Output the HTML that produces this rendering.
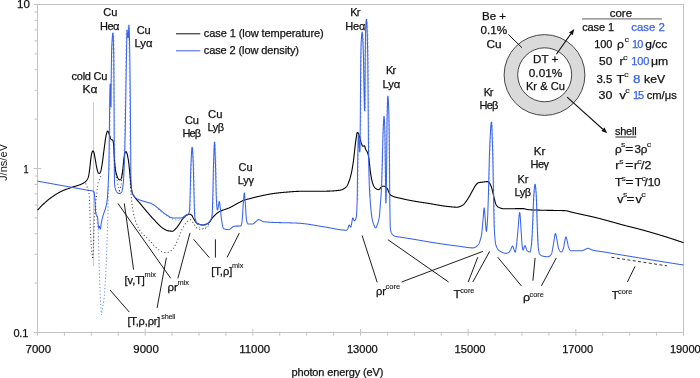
<!DOCTYPE html>
<html><head><meta charset="utf-8"><title>spectra</title>
<style>
html,body{margin:0;padding:0;background:#fff;}
svg{display:block;font-family:"Liberation Sans",sans-serif;}
text{white-space:pre;}
</style></head><body>
<svg width="700" height="378" viewBox="0 0 700 378">
<rect width="700" height="378" fill="#fff"/>
<g id="axes">
<rect x="37.5" y="4.5" width="646.0" height="328.0" fill="none" stroke="#c3c3c3" stroke-width="1"/>
<path d="M37.50,329.0v6.7 M64.42,331.7v4 M91.33,331.7v4 M118.25,331.7v4 M145.17,329.0v6.7 M172.08,331.7v4 M199.00,331.7v4 M225.92,331.7v4 M252.83,329.0v6.7 M279.75,331.7v4 M306.67,331.7v4 M333.58,331.7v4 M360.50,329.0v6.7 M387.42,331.7v4 M414.33,331.7v4 M441.25,331.7v4 M468.17,329.0v6.7 M495.08,331.7v4 M522.00,331.7v4 M548.92,331.7v4 M575.83,329.0v6.7 M602.75,331.7v4 M629.67,331.7v4 M656.58,331.7v4 M683.50,329.0v6.7 M41.3,332.50h-7.6 M38.1,283.13h-3.6 M38.1,254.25h-3.6 M38.1,233.76h-3.6 M38.1,217.87h-3.6 M38.1,204.88h-3.6 M38.1,193.90h-3.6 M38.1,184.39h-3.6 M38.1,176.00h-3.6 M41.3,168.50h-7.6 M38.1,119.13h-3.6 M38.1,90.25h-3.6 M38.1,69.76h-3.6 M38.1,53.87h-3.6 M38.1,40.88h-3.6 M38.1,29.90h-3.6 M38.1,20.39h-3.6 M38.1,12.00h-3.6 M41.3,4.50h-7.6" fill="none" stroke="#c3c3c3" stroke-width="1"/>
</g>
<g id="shapes">
<line x1="93.6" y1="102.6" x2="93.6" y2="266" stroke="#c3c3c3" stroke-width="0.95"/>
<line x1="124.3" y1="203.4" x2="133.6" y2="269.7" stroke="#111" stroke-width="0.95"/>
<line x1="117.9" y1="203.4" x2="170.7" y2="278.3" stroke="#111" stroke-width="0.95"/>
<line x1="166.4" y1="257.6" x2="157.1" y2="307.9" stroke="#111" stroke-width="0.95"/>
<line x1="190" y1="232.9" x2="177.9" y2="278.3" stroke="#111" stroke-width="0.95"/>
<line x1="193.6" y1="239.3" x2="209.3" y2="257.6" stroke="#111" stroke-width="0.95"/>
<line x1="215.4" y1="239.3" x2="215.4" y2="257.6" stroke="#111" stroke-width="0.95"/>
<line x1="239.3" y1="233.1" x2="227.1" y2="257.4" stroke="#111" stroke-width="0.95"/>
<line x1="110" y1="290" x2="129.3" y2="312.1" stroke="#111" stroke-width="0.95"/>
<line x1="362.1" y1="235.5" x2="377.2" y2="282.3" stroke="#111" stroke-width="0.95"/>
<line x1="387.8" y1="239.6" x2="448.6" y2="282" stroke="#111" stroke-width="0.95"/>
<line x1="401.6" y1="282" x2="482.8" y2="251.4" stroke="#111" stroke-width="0.95"/>
<line x1="468.2" y1="282" x2="477.8" y2="257.2" stroke="#111" stroke-width="0.95"/>
<line x1="472.8" y1="282" x2="489.6" y2="251.4" stroke="#111" stroke-width="0.95"/>
<line x1="497.7" y1="257.2" x2="521.4" y2="285.9" stroke="#111" stroke-width="0.95"/>
<line x1="535.1" y1="257.9" x2="532.9" y2="280.7" stroke="#111" stroke-width="0.95"/>
<line x1="556.3" y1="257.9" x2="541.4" y2="285.9" stroke="#111" stroke-width="0.95"/>
<line x1="635" y1="266.4" x2="627.4" y2="282.0" stroke="#111" stroke-width="0.95"/>
<line x1="611.4" y1="257.3" x2="667.1" y2="265.9" stroke="#111" stroke-width="1" stroke-dasharray="3 2.4" opacity=".85"/>
<line x1="176" y1="33.8" x2="200.3" y2="33.8" stroke="#111" stroke-width="1"/>
<line x1="176" y1="50.8" x2="200.3" y2="50.8" stroke="#3a63ec" stroke-width="1"/>
<circle cx="544.5" cy="75" r="40.4" fill="#dadada" stroke="#333" stroke-width="0.9"/>
<circle cx="544.7" cy="74.8" r="27" fill="#fff" stroke="#333" stroke-width="0.9"/>
<line x1="508.3" y1="34.3" x2="521.9" y2="47.7" stroke="#111" stroke-width="1"/>
<line x1="582" y1="18.8" x2="662" y2="18.8" stroke="#808080" stroke-width="1.3"/>
<line x1="556.4" y1="54.3" x2="570.83" y2="33.90" stroke="#111" stroke-width="1.1"/>
<polygon points="574.30,29.00 572.71,35.23 568.96,32.57" fill="#111"/>
<line x1="567.1" y1="97.1" x2="602.84" y2="129.28" stroke="#111" stroke-width="1.1"/>
<polygon points="607.30,133.30 601.30,130.99 604.38,127.58" fill="#111"/>
<line x1="615.4" y1="137" x2="636.3" y2="137" stroke="#111" stroke-width="0.9"/>
</g>
<g id="curves">
<path d="M37.50,210.20 L37.75,209.92 L38.00,209.65 L38.25,209.38 L38.50,209.10 L38.75,208.83 L39.00,208.57 L39.25,208.30 L39.50,208.03 L39.75,207.77 L40.00,207.50 L40.25,207.24 L40.50,206.98 L40.75,206.72 L41.00,206.47 L41.25,206.21 L41.50,205.96 L41.75,205.70 L42.00,205.45 L42.25,205.20 L42.50,204.96 L42.75,204.71 L43.00,204.47 L43.25,204.23 L43.50,203.99 L43.75,203.75 L44.00,203.51 L44.25,203.27 L44.50,203.04 L44.75,202.81 L45.00,202.58 L45.25,202.35 L45.50,202.13 L45.75,201.90 L46.00,201.68 L46.25,201.46 L46.50,201.25 L46.75,201.03 L47.00,200.82 L47.25,200.61 L47.50,200.40 L47.75,200.19 L48.00,199.98 L48.25,199.78 L48.50,199.58 L48.75,199.38 L49.00,199.18 L49.25,198.99 L49.50,198.80 L49.75,198.61 L50.00,198.42 L50.25,198.24 L50.50,198.05 L50.75,197.87 L51.00,197.69 L51.25,197.51 L51.50,197.33 L51.75,197.15 L52.00,196.98 L52.25,196.80 L52.50,196.63 L52.75,196.46 L53.00,196.28 L53.25,196.11 L53.50,195.94 L53.75,195.77 L54.00,195.61 L54.25,195.44 L54.50,195.28 L54.75,195.11 L55.00,194.95 L55.25,194.79 L55.50,194.63 L55.75,194.48 L56.00,194.32 L56.25,194.16 L56.50,194.01 L56.75,193.86 L57.00,193.71 L57.25,193.56 L57.50,193.41 L57.75,193.26 L58.00,193.12 L58.25,192.98 L58.50,192.83 L58.75,192.69 L59.00,192.55 L59.25,192.42 L59.50,192.28 L59.75,192.15 L60.00,192.01 L60.25,191.88 L60.50,191.75 L60.75,191.63 L61.00,191.50 L61.25,191.38 L61.50,191.25 L61.75,191.13 L62.00,191.01 L62.25,190.90 L62.50,190.78 L62.75,190.67 L63.00,190.56 L63.25,190.45 L63.50,190.34 L63.75,190.23 L64.00,190.13 L64.25,190.03 L64.50,189.93 L64.75,189.83 L65.00,189.73 L65.25,189.64 L65.50,189.55 L65.75,189.45 L66.00,189.36 L66.25,189.27 L66.50,189.18 L66.75,189.10 L67.00,189.01 L67.25,188.92 L67.50,188.84 L67.75,188.75 L68.00,188.67 L68.25,188.58 L68.50,188.50 L68.75,188.41 L69.00,188.33 L69.25,188.25 L69.50,188.16 L69.75,188.08 L70.00,187.99 L70.25,187.90 L70.50,187.82 L70.75,187.73 L71.00,187.64 L71.25,187.55 L71.50,187.46 L71.75,187.38 L72.00,187.29 L72.25,187.20 L72.50,187.12 L72.75,187.04 L73.00,186.96 L73.25,186.88 L73.50,186.80 L73.75,186.72 L74.00,186.65 L74.25,186.57 L74.50,186.49 L74.75,186.42 L75.00,186.34 L75.25,186.27 L75.50,186.19 L75.75,186.12 L76.00,186.04 L76.25,185.97 L76.50,185.89 L76.75,185.82 L77.00,185.74 L77.25,185.66 L77.50,185.58 L77.75,185.50 L78.00,185.42 L78.25,185.34 L78.50,185.26 L78.75,185.17 L79.00,185.08 L79.25,184.99 L79.50,184.90 L79.75,184.81 L80.00,184.71 L80.25,184.62 L80.50,184.51 L80.75,184.41 L81.00,184.31 L81.25,184.20 L81.50,184.09 L81.75,183.97 L82.00,183.85 L82.25,183.73 L82.50,183.61 L82.75,183.48 L83.00,183.35 L83.25,183.21 L83.50,183.06 L83.75,182.91 L84.00,182.75 L84.25,182.58 L84.50,182.40 L84.75,182.21 L85.00,182.01 L85.25,181.79 L85.50,181.57 L85.75,181.32 L86.00,181.06 L86.25,180.79 L86.50,180.50 L86.75,180.19 L87.00,179.84 L87.25,179.44 L87.50,179.00 L87.75,178.49 L88.00,177.91 L88.25,177.25 L88.50,176.50 L88.75,175.46 L89.00,174.00 L89.25,172.25 L89.50,170.34 L89.75,168.38 L90.00,166.30 L90.25,163.87 L90.50,161.37 L90.75,159.11 L91.00,157.34 L91.25,155.74 L91.50,154.29 L91.75,153.11 L92.00,152.30 L92.25,151.73 L92.50,151.25 L92.75,150.95 L93.00,150.92 L93.25,151.16 L93.50,151.60 L93.75,152.15 L94.00,152.77 L94.25,153.74 L94.50,155.00 L94.75,156.43 L95.00,157.89 L95.25,159.27 L95.50,160.69 L95.75,162.21 L96.00,163.74 L96.25,165.23 L96.50,166.61 L96.75,167.79 L97.00,168.82 L97.25,169.84 L97.50,170.80 L97.75,171.64 L98.00,172.31 L98.25,172.75 L98.50,172.99 L98.75,173.19 L99.00,173.33 L99.25,173.40 L99.50,173.35 L99.75,173.15 L100.00,172.84 L100.25,172.44 L100.50,172.00 L100.75,171.36 L101.00,170.41 L101.25,169.22 L101.50,167.88 L101.75,166.44 L102.00,165.00 L102.25,163.46 L102.50,161.73 L102.75,159.86 L103.00,157.89 L103.25,155.87 L103.50,153.85 L103.75,151.87 L104.00,150.00 L104.25,148.13 L104.50,146.18 L104.75,144.20 L105.00,142.25 L105.25,140.41 L105.50,138.71 L105.75,137.22 L106.00,136.00 L106.25,134.91 L106.50,133.83 L106.75,132.83 L107.00,131.98 L107.25,131.36 L107.50,131.03 L107.75,131.05 L108.00,131.34 L108.25,131.78 L108.50,132.30 L108.75,132.84 L109.00,133.55 L109.25,134.34 L109.50,135.12 L109.75,135.82 L110.00,136.55 L110.25,137.30 L110.50,138.00 L110.75,138.63 L111.00,139.12 L111.25,139.45 L111.50,139.65 L111.75,139.78 L112.00,139.88 L112.25,139.98 L112.50,140.11 L112.75,140.31 L113.00,140.60 L113.25,141.74 L113.50,143.97 L113.75,147.19 L114.00,152.30 L114.25,156.74 L114.50,160.33 L114.75,163.62 L115.00,166.36 L115.25,168.34 L115.50,169.90 L115.75,171.29 L116.00,172.51 L116.25,173.58 L116.50,174.51 L116.75,175.31 L117.00,176.00 L117.25,176.62 L117.50,177.20 L117.75,177.74 L118.00,178.23 L118.25,178.66 L118.50,179.02 L118.75,179.30 L119.00,179.50 L119.25,179.65 L119.50,179.78 L119.75,179.87 L120.00,179.90 L120.25,179.83 L120.50,179.63 L120.75,179.34 L121.00,179.00 L121.25,178.45 L121.50,177.56 L121.75,176.40 L122.00,175.04 L122.25,173.55 L122.50,172.00 L122.75,170.10 L123.00,167.69 L123.25,165.01 L123.50,162.34 L123.75,159.91 L124.00,158.00 L124.25,156.42 L124.50,154.91 L124.75,153.61 L125.00,152.65 L125.25,152.13 L125.50,151.83 L125.75,151.64 L126.00,151.63 L126.25,151.89 L126.50,152.34 L126.75,152.89 L127.00,153.52 L127.25,154.37 L127.50,155.42 L127.75,156.64 L128.00,157.99 L128.25,159.46 L128.50,161.00 L128.75,162.80 L129.00,164.96 L129.25,167.37 L129.50,169.92 L129.75,172.50 L130.00,175.00 L130.25,177.58 L130.50,180.34 L130.75,183.05 L131.00,185.45 L131.25,187.33 L131.50,188.93 L131.75,190.39 L132.00,191.66 L132.25,192.71 L132.50,193.50 L132.75,194.10 L133.00,194.64 L133.25,195.11 L133.50,195.53 L133.75,195.91 L134.00,196.26 L134.25,196.59 L134.50,196.90 L134.75,197.22 L135.00,197.53 L135.25,197.87 L135.50,198.20 L135.75,198.53 L136.00,198.84 L136.25,199.15 L136.50,199.45 L136.75,199.74 L137.00,200.03 L137.25,200.32 L137.50,200.60 L137.75,200.87 L138.00,201.15 L138.25,201.42 L138.50,201.70 L138.75,201.98 L139.00,202.25 L139.25,202.53 L139.50,202.82 L139.75,203.11 L140.00,203.40 L140.25,203.70 L140.50,204.00 L140.75,204.30 L141.00,204.60 L141.25,204.91 L141.50,205.21 L141.75,205.52 L142.00,205.82 L142.25,206.13 L142.50,206.43 L142.75,206.74 L143.00,207.04 L143.25,207.34 L143.50,207.65 L143.75,207.95 L144.00,208.24 L144.25,208.54 L144.50,208.84 L144.75,209.13 L145.00,209.43 L145.25,209.72 L145.50,210.02 L145.75,210.31 L146.00,210.61 L146.25,210.90 L146.50,211.20 L146.75,211.49 L147.00,211.79 L147.25,212.08 L147.50,212.38 L147.75,212.67 L148.00,212.96 L148.25,213.26 L148.50,213.55 L148.75,213.84 L149.00,214.13 L149.25,214.42 L149.50,214.71 L149.75,215.00 L150.00,215.28 L150.25,215.57 L150.50,215.85 L150.75,216.14 L151.00,216.42 L151.25,216.70 L151.50,216.98 L151.75,217.26 L152.00,217.54 L152.25,217.81 L152.50,218.08 L152.75,218.36 L153.00,218.63 L153.25,218.89 L153.50,219.16 L153.75,219.43 L154.00,219.69 L154.25,219.95 L154.50,220.21 L154.75,220.47 L155.00,220.73 L155.25,221.00 L155.50,221.26 L155.75,221.53 L156.00,221.79 L156.25,222.06 L156.50,222.33 L156.75,222.59 L157.00,222.86 L157.25,223.12 L157.50,223.38 L157.75,223.65 L158.00,223.90 L158.25,224.16 L158.50,224.42 L158.75,224.67 L159.00,224.92 L159.25,225.16 L159.50,225.41 L159.75,225.64 L160.00,225.88 L160.25,226.11 L160.50,226.33 L160.75,226.55 L161.00,226.77 L161.25,226.98 L161.50,227.18 L161.75,227.38 L162.00,227.57 L162.25,227.75 L162.50,227.93 L162.75,228.10 L163.00,228.26 L163.25,228.43 L163.50,228.59 L163.75,228.76 L164.00,228.92 L164.25,229.08 L164.50,229.24 L164.75,229.40 L165.00,229.55 L165.25,229.70 L165.50,229.84 L165.75,229.98 L166.00,230.11 L166.25,230.23 L166.50,230.34 L166.75,230.45 L167.00,230.54 L167.25,230.62 L167.50,230.70 L167.75,230.75 L168.00,230.80 L168.25,230.84 L168.50,230.88 L168.75,230.91 L169.00,230.95 L169.25,230.98 L169.50,231.01 L169.75,231.04 L170.00,231.07 L170.25,231.09 L170.50,231.12 L170.75,231.14 L171.00,231.15 L171.25,231.17 L171.50,231.18 L171.75,231.19 L172.00,231.20 L172.25,231.20 L172.50,231.19 L172.75,231.13 L173.00,231.04 L173.25,230.92 L173.50,230.77 L173.75,230.59 L174.00,230.39 L174.25,230.17 L174.50,229.95 L174.75,229.71 L175.00,229.47 L175.25,229.23 L175.50,228.99 L175.75,228.75 L176.00,228.51 L176.25,228.24 L176.50,227.95 L176.75,227.64 L177.00,227.32 L177.25,226.98 L177.50,226.64 L177.75,226.29 L178.00,225.93 L178.25,225.57 L178.50,225.21 L178.75,224.85 L179.00,224.50 L179.25,224.14 L179.50,223.77 L179.75,223.38 L180.00,222.98 L180.25,222.57 L180.50,222.16 L180.75,221.75 L181.00,221.34 L181.25,220.94 L181.50,220.54 L181.75,220.15 L182.00,219.78 L182.25,219.42 L182.50,219.09 L182.75,218.78 L183.00,218.49 L183.25,218.20 L183.50,217.92 L183.75,217.65 L184.00,217.38 L184.25,217.12 L184.50,216.87 L184.75,216.62 L185.00,216.39 L185.25,216.17 L185.50,215.96 L185.75,215.77 L186.00,215.60 L186.25,215.44 L186.50,215.30 L186.75,215.17 L187.00,215.04 L187.25,214.91 L187.50,214.78 L187.75,214.67 L188.00,214.56 L188.25,214.46 L188.50,214.37 L188.75,214.30 L189.00,214.25 L189.25,214.21 L189.50,214.20 L189.75,214.22 L190.00,214.26 L190.25,214.34 L190.50,214.44 L190.75,214.56 L191.00,214.69 L191.25,214.84 L191.50,215.00 L191.75,215.23 L192.00,215.56 L192.25,215.99 L192.50,216.47 L192.75,216.98 L193.00,217.50 L193.25,217.99 L193.50,218.44 L193.75,218.83 L194.00,219.23 L194.25,219.63 L194.50,220.04 L194.75,220.45 L195.00,220.85 L195.25,221.24 L195.50,221.62 L195.75,221.97 L196.00,222.30 L196.25,222.59 L196.50,222.85 L196.75,223.07 L197.00,223.24 L197.25,223.38 L197.50,223.50 L197.75,223.62 L198.00,223.74 L198.25,223.85 L198.50,223.96 L198.75,224.06 L199.00,224.16 L199.25,224.26 L199.50,224.35 L199.75,224.44 L200.00,224.52 L200.25,224.59 L200.50,224.66 L200.75,224.73 L201.00,224.78 L201.25,224.84 L201.50,224.88 L201.75,224.92 L202.00,224.95 L202.25,224.97 L202.50,224.99 L202.75,225.00 L203.00,225.00 L203.25,224.99 L203.50,224.97 L203.75,224.94 L204.00,224.90 L204.25,224.85 L204.50,224.79 L204.75,224.72 L205.00,224.64 L205.25,224.56 L205.50,224.47 L205.75,224.37 L206.00,224.27 L206.25,224.16 L206.50,224.04 L206.75,223.92 L207.00,223.79 L207.25,223.66 L207.50,223.53 L207.75,223.39 L208.00,223.25 L208.25,223.10 L208.50,222.96 L208.75,222.80 L209.00,222.61 L209.25,222.37 L209.50,222.10 L209.75,221.79 L210.00,221.46 L210.25,221.11 L210.50,220.74 L210.75,220.36 L211.00,219.98 L211.25,219.59 L211.50,219.20 L211.75,218.82 L212.00,218.45 L212.25,218.10 L212.50,217.77 L212.75,217.47 L213.00,217.19 L213.25,216.92 L213.50,216.65 L213.75,216.38 L214.00,216.12 L214.25,215.86 L214.50,215.59 L214.75,215.34 L215.00,215.08 L215.25,214.83 L215.50,214.59 L215.75,214.35 L216.00,214.11 L216.25,213.88 L216.50,213.66 L216.75,213.44 L217.00,213.23 L217.25,213.03 L217.50,212.84 L217.75,212.66 L218.00,212.48 L218.25,212.31 L218.50,212.16 L218.75,212.01 L219.00,211.87 L219.25,211.74 L219.50,211.60 L219.75,211.47 L220.00,211.35 L220.25,211.23 L220.50,211.11 L220.75,211.00 L221.00,210.89 L221.25,210.78 L221.50,210.67 L221.75,210.57 L222.00,210.47 L222.25,210.37 L222.50,210.28 L222.75,210.18 L223.00,210.09 L223.25,210.00 L223.50,209.91 L223.75,209.83 L224.00,209.74 L224.25,209.65 L224.50,209.57 L224.75,209.48 L225.00,209.40 L225.25,209.31 L225.50,209.23 L225.75,209.14 L226.00,209.06 L226.25,208.97 L226.50,208.89 L226.75,208.80 L227.00,208.71 L227.25,208.62 L227.50,208.53 L227.75,208.44 L228.00,208.34 L228.25,208.25 L228.50,208.15 L228.75,208.05 L229.00,207.94 L229.25,207.84 L229.50,207.73 L229.75,207.62 L230.00,207.50 L230.25,207.38 L230.50,207.26 L230.75,207.14 L231.00,207.01 L231.25,206.88 L231.50,206.75 L231.75,206.61 L232.00,206.48 L232.25,206.34 L232.50,206.20 L232.75,206.06 L233.00,205.92 L233.25,205.78 L233.50,205.64 L233.75,205.50 L234.00,205.35 L234.25,205.21 L234.50,205.06 L234.75,204.92 L235.00,204.78 L235.25,204.63 L235.50,204.49 L235.75,204.35 L236.00,204.21 L236.25,204.07 L236.50,203.93 L236.75,203.80 L237.00,203.66 L237.25,203.53 L237.50,203.40 L237.75,203.27 L238.00,203.14 L238.25,203.00 L238.50,202.87 L238.75,202.74 L239.00,202.60 L239.25,202.46 L239.50,202.33 L239.75,202.19 L240.00,202.06 L240.25,201.92 L240.50,201.79 L240.75,201.66 L241.00,201.53 L241.25,201.40 L241.50,201.28 L241.75,201.15 L242.00,201.03 L242.25,200.91 L242.50,200.80 L242.75,200.69 L243.00,200.58 L243.25,200.48 L243.50,200.38 L243.75,200.29 L244.00,200.20 L244.25,200.12 L244.50,200.03 L244.75,199.95 L245.00,199.88 L245.25,199.80 L245.50,199.73 L245.75,199.66 L246.00,199.60 L246.25,199.53 L246.50,199.46 L246.75,199.40 L247.00,199.34 L247.25,199.28 L247.50,199.21 L247.75,199.15 L248.00,199.09 L248.25,199.03 L248.50,198.97 L248.75,198.91 L249.00,198.85 L249.25,198.79 L249.50,198.73 L249.75,198.66 L250.00,198.60 L250.25,198.53 L250.50,198.47 L250.75,198.40 L251.00,198.34 L251.25,198.27 L251.50,198.20 L251.75,198.14 L252.00,198.07 L252.25,198.00 L252.50,197.94 L252.75,197.87 L253.00,197.80 L253.25,197.73 L253.50,197.67 L253.75,197.60 L254.00,197.54 L254.25,197.47 L254.50,197.40 L254.75,197.34 L255.00,197.27 L255.25,197.21 L255.50,197.14 L255.75,197.08 L256.00,197.02 L256.25,196.96 L256.50,196.89 L256.75,196.83 L257.00,196.77 L257.25,196.71 L257.50,196.65 L257.75,196.59 L258.00,196.54 L258.25,196.48 L258.50,196.42 L258.75,196.37 L259.00,196.31 L259.25,196.26 L259.50,196.20 L259.75,196.15 L260.00,196.09 L260.25,196.04 L260.50,195.98 L260.75,195.93 L261.00,195.87 L261.25,195.82 L261.50,195.76 L261.75,195.71 L262.00,195.66 L262.25,195.60 L262.50,195.55 L262.75,195.49 L263.00,195.44 L263.25,195.39 L263.50,195.34 L263.75,195.28 L264.00,195.23 L264.25,195.18 L264.50,195.13 L264.75,195.07 L265.00,195.02 L265.25,194.97 L265.50,194.92 L265.75,194.87 L266.00,194.82 L266.25,194.77 L266.50,194.72 L266.75,194.67 L267.00,194.62 L267.25,194.57 L267.50,194.53 L267.75,194.48 L268.00,194.43 L268.25,194.38 L268.50,194.34 L268.75,194.29 L269.00,194.24 L269.25,194.20 L269.50,194.15 L269.75,194.11 L270.00,194.07 L270.25,194.02 L270.50,193.98 L270.75,193.94 L271.00,193.89 L271.25,193.85 L271.50,193.81 L271.75,193.77 L272.00,193.73 L272.25,193.69 L272.50,193.65 L272.75,193.62 L273.00,193.58 L273.25,193.54 L273.50,193.50 L273.75,193.47 L274.00,193.43 L274.25,193.40 L274.50,193.37 L274.75,193.33 L275.00,193.30 L275.25,193.27 L275.50,193.24 L275.75,193.21 L276.00,193.17 L276.25,193.14 L276.50,193.11 L276.75,193.08 L277.00,193.05 L277.25,193.02 L277.50,193.00 L277.75,192.97 L278.00,192.94 L278.25,192.91 L278.50,192.88 L278.75,192.86 L279.00,192.83 L279.25,192.80 L279.50,192.77 L279.75,192.75 L280.00,192.72 L280.25,192.70 L280.50,192.67 L280.75,192.65 L281.00,192.62 L281.25,192.60 L281.50,192.57 L281.75,192.55 L282.00,192.52 L282.25,192.50 L282.50,192.48 L282.75,192.46 L283.00,192.43 L283.25,192.41 L283.50,192.39 L283.75,192.37 L284.00,192.34 L284.25,192.32 L284.50,192.30 L284.75,192.28 L285.00,192.26 L285.25,192.24 L285.50,192.22 L285.75,192.20 L286.00,192.18 L286.25,192.16 L286.50,192.14 L286.75,192.12 L287.00,192.10 L287.25,192.08 L287.50,192.06 L287.75,192.04 L288.00,192.02 L288.25,192.00 L288.50,191.98 L288.75,191.96 L289.00,191.94 L289.25,191.92 L289.50,191.90 L289.75,191.88 L290.00,191.86 L290.25,191.84 L290.50,191.82 L290.75,191.80 L291.00,191.78 L291.25,191.76 L291.50,191.74 L291.75,191.72 L292.00,191.70 L292.25,191.68 L292.50,191.66 L292.75,191.64 L293.00,191.63 L293.25,191.61 L293.50,191.59 L293.75,191.57 L294.00,191.55 L294.25,191.54 L294.50,191.52 L294.75,191.50 L295.00,191.49 L295.25,191.47 L295.50,191.46 L295.75,191.45 L296.00,191.43 L296.25,191.42 L296.50,191.41 L296.75,191.39 L297.00,191.38 L297.25,191.37 L297.50,191.36 L297.75,191.35 L298.00,191.34 L298.25,191.33 L298.50,191.33 L298.75,191.32 L299.00,191.32 L299.25,191.31 L299.50,191.31 L299.75,191.30 L300.00,191.30 L300.25,191.30 L300.50,191.30 L300.75,191.29 L301.00,191.29 L301.25,191.29 L301.50,191.29 L301.75,191.29 L302.00,191.29 L302.25,191.28 L302.50,191.28 L302.75,191.28 L303.00,191.28 L303.25,191.28 L303.50,191.28 L303.75,191.28 L304.00,191.27 L304.25,191.27 L304.50,191.27 L304.75,191.27 L305.00,191.27 L305.25,191.27 L305.50,191.27 L305.75,191.27 L306.00,191.27 L306.25,191.26 L306.50,191.26 L306.75,191.26 L307.00,191.26 L307.25,191.26 L307.50,191.26 L307.75,191.26 L308.00,191.26 L308.25,191.26 L308.50,191.26 L308.75,191.26 L309.00,191.26 L309.25,191.26 L309.50,191.26 L309.75,191.26 L310.00,191.25 L310.25,191.25 L310.50,191.25 L310.75,191.25 L311.00,191.25 L311.25,191.25 L311.50,191.25 L311.75,191.25 L312.00,191.25 L312.25,191.25 L312.50,191.25 L312.75,191.25 L313.00,191.25 L313.25,191.25 L313.50,191.25 L313.75,191.25 L314.00,191.25 L314.25,191.25 L314.50,191.25 L314.75,191.25 L315.00,191.24 L315.25,191.24 L315.50,191.24 L315.75,191.24 L316.00,191.24 L316.25,191.24 L316.50,191.24 L316.75,191.24 L317.00,191.24 L317.25,191.24 L317.50,191.24 L317.75,191.24 L318.00,191.24 L318.25,191.24 L318.50,191.24 L318.75,191.23 L319.00,191.23 L319.25,191.23 L319.50,191.23 L319.75,191.23 L320.00,191.23 L320.25,191.23 L320.50,191.23 L320.75,191.23 L321.00,191.23 L321.25,191.22 L321.50,191.22 L321.75,191.22 L322.00,191.22 L322.25,191.22 L322.50,191.22 L322.75,191.22 L323.00,191.21 L323.25,191.21 L323.50,191.21 L323.75,191.21 L324.00,191.21 L324.25,191.21 L324.50,191.20 L324.75,191.20 L325.00,191.20 L325.25,191.20 L325.50,191.20 L325.75,191.19 L326.00,191.19 L326.25,191.18 L326.50,191.18 L326.75,191.18 L327.00,191.17 L327.25,191.16 L327.50,191.16 L327.75,191.15 L328.00,191.14 L328.25,191.14 L328.50,191.13 L328.75,191.12 L329.00,191.11 L329.25,191.10 L329.50,191.09 L329.75,191.08 L330.00,191.07 L330.25,191.06 L330.50,191.05 L330.75,191.03 L331.00,191.02 L331.25,191.01 L331.50,190.99 L331.75,190.98 L332.00,190.97 L332.25,190.95 L332.50,190.93 L332.75,190.92 L333.00,190.90 L333.25,190.88 L333.50,190.86 L333.75,190.85 L334.00,190.83 L334.25,190.81 L334.50,190.79 L334.75,190.77 L335.00,190.75 L335.25,190.72 L335.50,190.70 L335.75,190.68 L336.00,190.65 L336.25,190.63 L336.50,190.61 L336.75,190.58 L337.00,190.56 L337.25,190.53 L337.50,190.50 L337.75,190.47 L338.00,190.45 L338.25,190.42 L338.50,190.39 L338.75,190.36 L339.00,190.33 L339.25,190.30 L339.50,190.27 L339.75,190.23 L340.00,190.20 L340.25,190.16 L340.50,190.12 L340.75,190.06 L341.00,190.00 L341.25,189.93 L341.50,189.85 L341.75,189.76 L342.00,189.66 L342.25,189.56 L342.50,189.45 L342.75,189.33 L343.00,189.20 L343.25,189.06 L343.50,188.92 L343.75,188.77 L344.00,188.61 L344.25,188.44 L344.50,188.27 L344.75,188.09 L345.00,187.90 L345.25,187.70 L345.50,187.50 L345.75,187.29 L346.00,187.07 L346.25,186.85 L346.50,186.59 L346.75,186.28 L347.00,185.90 L347.25,185.47 L347.50,185.00 L347.75,184.48 L348.00,183.92 L348.25,183.32 L348.50,182.70 L348.75,182.06 L349.00,181.40 L349.25,180.73 L349.50,180.04 L349.75,179.28 L350.00,178.47 L350.25,177.59 L350.50,176.66 L350.75,175.68 L351.00,174.65 L351.25,173.58 L351.50,172.46 L351.75,171.29 L352.00,170.01 L352.25,168.64 L352.50,167.17 L352.75,165.63 L353.00,164.02 L353.25,162.34 L353.50,160.55 L353.75,158.54 L354.00,156.37 L354.25,154.09 L354.50,151.75 L354.75,149.40 L355.00,147.09 L355.25,144.89 L355.50,142.84 L355.75,140.99 L356.00,139.36 L356.25,137.65 L356.50,135.94 L356.75,134.39 L357.00,133.16 L357.25,132.43 L357.50,132.32 L357.75,132.51 L358.00,132.87 L358.25,133.32 L358.50,133.81 L358.75,134.31 L359.00,134.95 L359.25,135.71 L359.50,136.57 L359.75,137.50 L360.00,138.47 L360.25,139.45 L360.50,140.42 L360.75,141.35 L361.00,142.22 L361.25,142.99 L361.50,143.66 L361.75,144.38 L362.00,145.08 L362.25,145.69 L362.50,146.09 L362.75,146.20 L363.00,146.17 L363.25,146.10 L363.50,146.02 L363.75,145.93 L364.00,145.86 L364.25,145.81 L364.50,145.85 L364.75,146.29 L365.00,147.07 L365.25,147.99 L365.50,148.86 L365.75,149.51 L366.00,149.99 L366.25,150.40 L366.50,150.78 L366.75,151.16 L367.00,151.57 L367.25,152.06 L367.50,152.65 L367.75,153.34 L368.00,154.15 L368.25,155.08 L368.50,156.14 L368.75,157.36 L369.00,159.05 L369.25,161.21 L369.50,163.65 L369.75,166.20 L370.00,168.67 L370.25,170.88 L370.50,172.68 L370.75,174.33 L371.00,175.88 L371.25,177.32 L371.50,178.63 L371.75,179.79 L372.00,180.82 L372.25,181.80 L372.50,182.72 L372.75,183.56 L373.00,184.31 L373.25,184.96 L373.50,185.50 L373.75,185.96 L374.00,186.39 L374.25,186.79 L374.50,187.16 L374.75,187.49 L375.00,187.78 L375.25,188.04 L375.50,188.25 L375.75,188.43 L376.00,188.60 L376.25,188.76 L376.50,188.91 L376.75,189.05 L377.00,189.18 L377.25,189.30 L377.50,189.40 L377.75,189.48 L378.00,189.55 L378.25,189.59 L378.50,189.60 L378.75,189.56 L379.00,189.44 L379.25,189.26 L379.50,189.03 L379.75,188.78 L380.00,188.51 L380.25,188.24 L380.50,188.00 L380.75,187.73 L381.00,187.39 L381.25,187.04 L381.50,186.71 L381.75,186.45 L382.00,186.31 L382.25,186.30 L382.50,186.30 L382.75,186.30 L383.00,186.30 L383.25,186.30 L383.50,186.30 L383.75,186.30 L384.00,186.30 L384.25,186.30 L384.50,186.30 L384.75,186.33 L385.00,186.41 L385.25,186.54 L385.50,186.71 L385.75,186.91 L386.00,187.15 L386.25,187.41 L386.50,187.69 L386.75,187.98 L387.00,188.28 L387.25,188.61 L387.50,189.05 L387.75,189.58 L388.00,190.17 L388.25,190.77 L388.50,191.36 L388.75,191.90 L389.00,192.40 L389.25,192.93 L389.50,193.46 L389.75,193.97 L390.00,194.41 L390.25,194.77 L390.50,195.00 L390.75,195.16 L391.00,195.31 L391.25,195.46 L391.50,195.60 L391.75,195.74 L392.00,195.86 L392.25,195.99 L392.50,196.11 L392.75,196.22 L393.00,196.33 L393.25,196.43 L393.50,196.53 L393.75,196.62 L394.00,196.71 L394.25,196.80 L394.50,196.88 L394.75,196.96 L395.00,197.04 L395.25,197.11 L395.50,197.18 L395.75,197.25 L396.00,197.31 L396.25,197.37 L396.50,197.43 L396.75,197.49 L397.00,197.55 L397.25,197.60 L397.50,197.66 L397.75,197.71 L398.00,197.76 L398.25,197.82 L398.50,197.87 L398.75,197.92 L399.00,197.97 L399.25,198.02 L399.50,198.07 L399.75,198.12 L400.00,198.18 L400.25,198.23 L400.50,198.29 L400.75,198.34 L401.00,198.40 L401.25,198.46 L401.50,198.53 L401.75,198.59 L402.00,198.65 L402.25,198.71 L402.50,198.77 L402.75,198.83 L403.00,198.89 L403.25,198.95 L403.50,199.01 L403.75,199.06 L404.00,199.12 L404.25,199.18 L404.50,199.24 L404.75,199.29 L405.00,199.35 L405.25,199.40 L405.50,199.46 L405.75,199.51 L406.00,199.56 L406.25,199.62 L406.50,199.67 L406.75,199.72 L407.00,199.77 L407.25,199.82 L407.50,199.88 L407.75,199.93 L408.00,199.98 L408.25,200.03 L408.50,200.08 L408.75,200.12 L409.00,200.17 L409.25,200.22 L409.50,200.27 L409.75,200.32 L410.00,200.37 L410.25,200.41 L410.50,200.46 L410.75,200.51 L411.00,200.56 L411.25,200.60 L411.50,200.65 L411.75,200.69 L412.00,200.74 L412.25,200.79 L412.50,200.83 L412.75,200.88 L413.00,200.92 L413.25,200.97 L413.50,201.01 L413.75,201.06 L414.00,201.10 L414.25,201.14 L414.50,201.19 L414.75,201.23 L415.00,201.28 L415.25,201.32 L415.50,201.36 L415.75,201.41 L416.00,201.45 L416.25,201.50 L416.50,201.54 L416.75,201.58 L417.00,201.62 L417.25,201.66 L417.50,201.71 L417.75,201.75 L418.00,201.79 L418.25,201.83 L418.50,201.87 L418.75,201.91 L419.00,201.95 L419.25,201.99 L419.50,202.02 L419.75,202.06 L420.00,202.10 L420.25,202.14 L420.50,202.18 L420.75,202.22 L421.00,202.25 L421.25,202.29 L421.50,202.33 L421.75,202.37 L422.00,202.41 L422.25,202.44 L422.50,202.48 L422.75,202.52 L423.00,202.55 L423.25,202.59 L423.50,202.63 L423.75,202.66 L424.00,202.70 L424.25,202.74 L424.50,202.78 L424.75,202.81 L425.00,202.85 L425.25,202.89 L425.50,202.93 L425.75,202.96 L426.00,203.00 L426.25,203.04 L426.50,203.08 L426.75,203.11 L427.00,203.15 L427.25,203.19 L427.50,203.23 L427.75,203.27 L428.00,203.31 L428.25,203.34 L428.50,203.38 L428.75,203.42 L429.00,203.46 L429.25,203.50 L429.50,203.55 L429.75,203.59 L430.00,203.63 L430.25,203.67 L430.50,203.71 L430.75,203.76 L431.00,203.80 L431.25,203.84 L431.50,203.88 L431.75,203.93 L432.00,203.97 L432.25,204.02 L432.50,204.06 L432.75,204.11 L433.00,204.15 L433.25,204.20 L433.50,204.24 L433.75,204.29 L434.00,204.33 L434.25,204.38 L434.50,204.42 L434.75,204.47 L435.00,204.51 L435.25,204.56 L435.50,204.60 L435.75,204.65 L436.00,204.69 L436.25,204.74 L436.50,204.78 L436.75,204.83 L437.00,204.87 L437.25,204.92 L437.50,204.96 L437.75,205.01 L438.00,205.05 L438.25,205.10 L438.50,205.14 L438.75,205.19 L439.00,205.23 L439.25,205.27 L439.50,205.31 L439.75,205.36 L440.00,205.40 L440.25,205.44 L440.50,205.48 L440.75,205.53 L441.00,205.57 L441.25,205.61 L441.50,205.65 L441.75,205.69 L442.00,205.73 L442.25,205.76 L442.50,205.80 L442.75,205.84 L443.00,205.88 L443.25,205.91 L443.50,205.95 L443.75,205.99 L444.00,206.02 L444.25,206.06 L444.50,206.09 L444.75,206.12 L445.00,206.16 L445.25,206.19 L445.50,206.22 L445.75,206.25 L446.00,206.28 L446.25,206.31 L446.50,206.34 L446.75,206.36 L447.00,206.39 L447.25,206.42 L447.50,206.44 L447.75,206.47 L448.00,206.50 L448.25,206.52 L448.50,206.55 L448.75,206.58 L449.00,206.60 L449.25,206.63 L449.50,206.66 L449.75,206.69 L450.00,206.71 L450.25,206.74 L450.50,206.77 L450.75,206.79 L451.00,206.82 L451.25,206.85 L451.50,206.87 L451.75,206.90 L452.00,206.92 L452.25,206.94 L452.50,206.97 L452.75,206.99 L453.00,207.01 L453.25,207.03 L453.50,207.05 L453.75,207.07 L454.00,207.09 L454.25,207.10 L454.50,207.12 L454.75,207.13 L455.00,207.15 L455.25,207.16 L455.50,207.17 L455.75,207.18 L456.00,207.18 L456.25,207.19 L456.50,207.20 L456.75,207.20 L457.00,207.20 L457.25,207.20 L457.50,207.19 L457.75,207.16 L458.00,207.13 L458.25,207.08 L458.50,207.03 L458.75,206.97 L459.00,206.89 L459.25,206.81 L459.50,206.73 L459.75,206.63 L460.00,206.53 L460.25,206.42 L460.50,206.31 L460.75,206.19 L461.00,206.06 L461.25,205.93 L461.50,205.80 L461.75,205.66 L462.00,205.52 L462.25,205.38 L462.50,205.24 L462.75,205.09 L463.00,204.94 L463.25,204.76 L463.50,204.56 L463.75,204.34 L464.00,204.09 L464.25,203.83 L464.50,203.54 L464.75,203.24 L465.00,202.92 L465.25,202.59 L465.50,202.26 L465.75,201.91 L466.00,201.56 L466.25,201.20 L466.50,200.85 L466.75,200.49 L467.00,200.14 L467.25,199.79 L467.50,199.42 L467.75,199.05 L468.00,198.66 L468.25,198.26 L468.50,197.84 L468.75,197.42 L469.00,197.00 L469.25,196.56 L469.50,196.12 L469.75,195.67 L470.00,195.22 L470.25,194.77 L470.50,194.31 L470.75,193.85 L471.00,193.39 L471.25,192.93 L471.50,192.48 L471.75,192.02 L472.00,191.57 L472.25,191.13 L472.50,190.69 L472.75,190.26 L473.00,189.83 L473.25,189.39 L473.50,188.93 L473.75,188.46 L474.00,187.99 L474.25,187.53 L474.50,187.07 L474.75,186.62 L475.00,186.20 L475.25,185.80 L475.50,185.43 L475.75,185.09 L476.00,184.80 L476.25,184.53 L476.50,184.26 L476.75,184.01 L477.00,183.76 L477.25,183.53 L477.50,183.31 L477.75,183.12 L478.00,182.96 L478.25,182.83 L478.50,182.73 L478.75,182.66 L479.00,182.61 L479.25,182.55 L479.50,182.51 L479.75,182.47 L480.00,182.43 L480.25,182.39 L480.50,182.36 L480.75,182.33 L481.00,182.30 L481.25,182.28 L481.50,182.25 L481.75,182.22 L482.00,182.20 L482.25,182.17 L482.50,182.15 L482.75,182.12 L483.00,182.09 L483.25,182.06 L483.50,182.02 L483.75,181.99 L484.00,181.95 L484.25,181.91 L484.50,181.88 L484.75,181.84 L485.00,181.81 L485.25,181.77 L485.50,181.74 L485.75,181.71 L486.00,181.68 L486.25,181.66 L486.50,181.64 L486.75,181.62 L487.00,181.61 L487.25,181.60 L487.50,181.60 L487.75,181.63 L488.00,181.72 L488.25,181.86 L488.50,182.03 L488.75,182.25 L489.00,182.48 L489.25,182.74 L489.50,183.00 L489.75,183.32 L490.00,183.73 L490.25,184.21 L490.50,184.77 L490.75,185.37 L491.00,186.02 L491.25,186.69 L491.50,187.38 L491.75,188.17 L492.00,189.04 L492.25,190.00 L492.50,191.02 L492.75,192.08 L493.00,193.16 L493.25,194.26 L493.50,195.35 L493.75,196.42 L494.00,197.44 L494.25,198.41 L494.50,199.36 L494.75,200.37 L495.00,201.38 L495.25,202.35 L495.50,203.23 L495.75,203.96 L496.00,204.50 L496.25,204.91 L496.50,205.29 L496.75,205.64 L497.00,205.96 L497.25,206.25 L497.50,206.51 L497.75,206.74 L498.00,206.94 L498.25,207.11 L498.50,207.25 L498.75,207.37 L499.00,207.48 L499.25,207.59 L499.50,207.69 L499.75,207.79 L500.00,207.89 L500.25,207.99 L500.50,208.08 L500.75,208.16 L501.00,208.24 L501.25,208.32 L501.50,208.39 L501.75,208.46 L502.00,208.52 L502.25,208.57 L502.50,208.62 L502.75,208.67 L503.00,208.71 L503.25,208.74 L503.50,208.76 L503.75,208.78 L504.00,208.79 L504.25,208.80 L504.50,208.80 L504.75,208.80 L505.00,208.80 L505.25,208.80 L505.50,208.80 L505.75,208.80 L506.00,208.80 L506.25,208.79 L506.50,208.79 L506.75,208.79 L507.00,208.79 L507.25,208.79 L507.50,208.78 L507.75,208.78 L508.00,208.78 L508.25,208.78 L508.50,208.77 L508.75,208.77 L509.00,208.77 L509.25,208.77 L509.50,208.76 L509.75,208.76 L510.00,208.76 L510.25,208.75 L510.50,208.75 L510.75,208.74 L511.00,208.74 L511.25,208.74 L511.50,208.73 L511.75,208.73 L512.00,208.73 L512.25,208.72 L512.50,208.72 L512.75,208.71 L513.00,208.71 L513.25,208.71 L513.50,208.70 L513.75,208.70 L514.00,208.69 L514.25,208.69 L514.50,208.69 L514.75,208.68 L515.00,208.68 L515.25,208.67 L515.50,208.67 L515.75,208.67 L516.00,208.66 L516.25,208.66 L516.50,208.65 L516.75,208.65 L517.00,208.65 L517.25,208.64 L517.50,208.64 L517.75,208.64 L518.00,208.63 L518.25,208.63 L518.50,208.63 L518.75,208.63 L519.00,208.62 L519.25,208.62 L519.50,208.62 L519.75,208.62 L520.00,208.61 L520.25,208.61 L520.50,208.61 L520.75,208.61 L521.00,208.61 L521.25,208.60 L521.50,208.60 L521.75,208.60 L522.00,208.60 L522.25,208.60 L522.50,208.60 L522.75,208.60 L523.00,208.60 L523.25,208.61 L523.50,208.63 L523.75,208.66 L524.00,208.70 L524.25,208.74 L524.50,208.79 L524.75,208.85 L525.00,208.91 L525.25,208.97 L525.50,209.03 L525.75,209.10 L526.00,209.17 L526.25,209.24 L526.50,209.31 L526.75,209.37 L527.00,209.43 L527.25,209.49 L527.50,209.54 L527.75,209.59 L528.00,209.63 L528.25,209.67 L528.50,209.69 L528.75,209.71 L529.00,209.73 L529.25,209.74 L529.50,209.76 L529.75,209.77 L530.00,209.79 L530.25,209.80 L530.50,209.82 L530.75,209.83 L531.00,209.84 L531.25,209.86 L531.50,209.87 L531.75,209.88 L532.00,209.89 L532.25,209.91 L532.50,209.92 L532.75,209.93 L533.00,209.94 L533.25,209.95 L533.50,209.96 L533.75,209.97 L534.00,209.98 L534.25,209.99 L534.50,210.00 L534.75,210.01 L535.00,210.02 L535.25,210.03 L535.50,210.04 L535.75,210.04 L536.00,210.05 L536.25,210.06 L536.50,210.07 L536.75,210.08 L537.00,210.08 L537.25,210.09 L537.50,210.10 L537.75,210.11 L538.00,210.11 L538.25,210.12 L538.50,210.13 L538.75,210.13 L539.00,210.14 L539.25,210.15 L539.50,210.15 L539.75,210.16 L540.00,210.16 L540.25,210.17 L540.50,210.18 L540.75,210.18 L541.00,210.19 L541.25,210.19 L541.50,210.20 L541.75,210.21 L542.00,210.21 L542.25,210.22 L542.50,210.22 L542.75,210.23 L543.00,210.23 L543.25,210.24 L543.50,210.25 L543.75,210.25 L544.00,210.26 L544.25,210.26 L544.50,210.27 L544.75,210.28 L545.00,210.28 L545.25,210.29 L545.50,210.29 L545.75,210.30 L546.00,210.31 L546.25,210.31 L546.50,210.32 L546.75,210.33 L547.00,210.33 L547.25,210.34 L547.50,210.34 L547.75,210.35 L548.00,210.35 L548.25,210.36 L548.50,210.36 L548.75,210.36 L549.00,210.37 L549.25,210.37 L549.50,210.38 L549.75,210.38 L550.00,210.38 L550.25,210.39 L550.50,210.39 L550.75,210.39 L551.00,210.40 L551.25,210.40 L551.50,210.40 L551.75,210.41 L552.00,210.41 L552.25,210.41 L552.50,210.42 L552.75,210.42 L553.00,210.42 L553.25,210.43 L553.50,210.43 L553.75,210.43 L554.00,210.43 L554.25,210.44 L554.50,210.44 L554.75,210.44 L555.00,210.45 L555.25,210.45 L555.50,210.45 L555.75,210.46 L556.00,210.46 L556.25,210.46 L556.50,210.46 L556.75,210.47 L557.00,210.47 L557.25,210.48 L557.50,210.48 L557.75,210.48 L558.00,210.49 L558.25,210.49 L558.50,210.49 L558.75,210.50 L559.00,210.50 L559.25,210.51 L559.50,210.51 L559.75,210.52 L560.00,210.52 L560.25,210.53 L560.50,210.53 L560.75,210.54 L561.00,210.55 L561.25,210.55 L561.50,210.56 L561.75,210.56 L562.00,210.57 L562.25,210.58 L562.50,210.58 L562.75,210.59 L563.00,210.60 L563.25,210.61 L563.50,210.62 L563.75,210.62 L564.00,210.63 L564.25,210.64 L564.50,210.65 L564.75,210.66 L565.00,210.67 L565.25,210.68 L565.50,210.69 L565.75,210.70 L566.00,210.72 L566.25,210.74 L566.50,210.78 L566.75,210.82 L567.00,210.86 L567.25,210.92 L567.50,210.98 L567.75,211.04 L568.00,211.10 L568.25,211.17 L568.50,211.25 L568.75,211.32 L569.00,211.40 L569.25,211.48 L569.50,211.56 L569.75,211.63 L570.00,211.71 L570.25,211.79 L570.50,211.86 L570.75,211.93 L571.00,212.00 L571.25,212.06 L571.50,212.12 L571.75,212.18 L572.00,212.24 L572.25,212.30 L572.50,212.36 L572.75,212.42 L573.00,212.48 L573.25,212.53 L573.50,212.59 L573.75,212.65 L574.00,212.71 L574.25,212.76 L574.50,212.82 L574.75,212.88 L575.00,212.93 L575.25,212.99 L575.50,213.05 L575.75,213.10 L576.00,213.16 L576.25,213.22 L576.50,213.27 L576.75,213.33 L577.00,213.38 L577.25,213.44 L577.50,213.50 L577.75,213.55 L578.00,213.61 L578.25,213.66 L578.50,213.72 L578.75,213.77 L579.00,213.83 L579.25,213.88 L579.50,213.94 L579.75,213.99 L580.00,214.05 L580.25,214.10 L580.50,214.15 L580.75,214.21 L581.00,214.26 L581.25,214.32 L581.50,214.37 L581.75,214.43 L582.00,214.48 L582.25,214.54 L582.50,214.59 L582.75,214.64 L583.00,214.70 L583.25,214.75 L583.50,214.81 L583.75,214.86 L584.00,214.92 L584.25,214.97 L584.50,215.02 L584.75,215.08 L585.00,215.13 L585.25,215.19 L585.50,215.24 L585.75,215.30 L586.00,215.35 L586.25,215.41 L586.50,215.46 L586.75,215.52 L587.00,215.57 L587.25,215.63 L587.50,215.68 L587.75,215.74 L588.00,215.79 L588.25,215.85 L588.50,215.90 L588.75,215.96 L589.00,216.01 L589.25,216.07 L589.50,216.12 L589.75,216.18 L590.00,216.24 L590.25,216.29 L590.50,216.35 L590.75,216.41 L591.00,216.46 L591.25,216.52 L591.50,216.58 L591.75,216.63 L592.00,216.69 L592.25,216.75 L592.50,216.80 L592.75,216.86 L593.00,216.92 L593.25,216.98 L593.50,217.04 L593.75,217.10 L594.00,217.15 L594.25,217.21 L594.50,217.27 L594.75,217.33 L595.00,217.39 L595.25,217.45 L595.50,217.51 L595.75,217.57 L596.00,217.63 L596.25,217.69 L596.50,217.75 L596.75,217.81 L597.00,217.88 L597.25,217.94 L597.50,218.00 L597.75,218.06 L598.00,218.12 L598.25,218.19 L598.50,218.25 L598.75,218.31 L599.00,218.38 L599.25,218.44 L599.50,218.50 L599.75,218.57 L600.00,218.63 L600.25,218.70 L600.50,218.76 L600.75,218.83 L601.00,218.89 L601.25,218.96 L601.50,219.02 L601.75,219.09 L602.00,219.16 L602.25,219.22 L602.50,219.29 L602.75,219.36 L603.00,219.42 L603.25,219.49 L603.50,219.56 L603.75,219.63 L604.00,219.69 L604.25,219.76 L604.50,219.83 L604.75,219.90 L605.00,219.97 L605.25,220.03 L605.50,220.10 L605.75,220.17 L606.00,220.24 L606.25,220.31 L606.50,220.38 L606.75,220.45 L607.00,220.52 L607.25,220.59 L607.50,220.66 L607.75,220.72 L608.00,220.79 L608.25,220.86 L608.50,220.93 L608.75,221.00 L609.00,221.07 L609.25,221.14 L609.50,221.21 L609.75,221.28 L610.00,221.36 L610.25,221.43 L610.50,221.50 L610.75,221.57 L611.00,221.64 L611.25,221.71 L611.50,221.78 L611.75,221.85 L612.00,221.92 L612.25,221.99 L612.50,222.06 L612.75,222.13 L613.00,222.20 L613.25,222.27 L613.50,222.34 L613.75,222.41 L614.00,222.48 L614.25,222.56 L614.50,222.63 L614.75,222.70 L615.00,222.77 L615.25,222.84 L615.50,222.91 L615.75,222.98 L616.00,223.05 L616.25,223.12 L616.50,223.19 L616.75,223.26 L617.00,223.33 L617.25,223.40 L617.50,223.47 L617.75,223.54 L618.00,223.61 L618.25,223.68 L618.50,223.75 L618.75,223.82 L619.00,223.89 L619.25,223.96 L619.50,224.03 L619.75,224.10 L620.00,224.17 L620.25,224.23 L620.50,224.30 L620.75,224.37 L621.00,224.44 L621.25,224.51 L621.50,224.58 L621.75,224.65 L622.00,224.71 L622.25,224.78 L622.50,224.85 L622.75,224.92 L623.00,224.98 L623.25,225.05 L623.50,225.12 L623.75,225.19 L624.00,225.25 L624.25,225.32 L624.50,225.38 L624.75,225.45 L625.00,225.52 L625.25,225.58 L625.50,225.65 L625.75,225.71 L626.00,225.78 L626.25,225.84 L626.50,225.91 L626.75,225.97 L627.00,226.03 L627.25,226.10 L627.50,226.16 L627.75,226.22 L628.00,226.29 L628.25,226.35 L628.50,226.41 L628.75,226.47 L629.00,226.54 L629.25,226.60 L629.50,226.66 L629.75,226.72 L630.00,226.78 L630.25,226.84 L630.50,226.91 L630.75,226.97 L631.00,227.03 L631.25,227.09 L631.50,227.15 L631.75,227.21 L632.00,227.27 L632.25,227.33 L632.50,227.39 L632.75,227.45 L633.00,227.52 L633.25,227.58 L633.50,227.64 L633.75,227.70 L634.00,227.76 L634.25,227.82 L634.50,227.88 L634.75,227.95 L635.00,228.01 L635.25,228.07 L635.50,228.13 L635.75,228.19 L636.00,228.26 L636.25,228.32 L636.50,228.38 L636.75,228.45 L637.00,228.51 L637.25,228.57 L637.50,228.64 L637.75,228.70 L638.00,228.77 L638.25,228.83 L638.50,228.90 L638.75,228.96 L639.00,229.03 L639.25,229.10 L639.50,229.16 L639.75,229.23 L640.00,229.30 L640.25,229.37 L640.50,229.44 L640.75,229.50 L641.00,229.57 L641.25,229.64 L641.50,229.71 L641.75,229.78 L642.00,229.85 L642.25,229.92 L642.50,229.99 L642.75,230.05 L643.00,230.12 L643.25,230.19 L643.50,230.26 L643.75,230.33 L644.00,230.40 L644.25,230.47 L644.50,230.54 L644.75,230.61 L645.00,230.68 L645.25,230.75 L645.50,230.82 L645.75,230.89 L646.00,230.96 L646.25,231.03 L646.50,231.10 L646.75,231.17 L647.00,231.24 L647.25,231.31 L647.50,231.38 L647.75,231.45 L648.00,231.52 L648.25,231.59 L648.50,231.67 L648.75,231.74 L649.00,231.81 L649.25,231.88 L649.50,231.95 L649.75,232.02 L650.00,232.09 L650.25,232.17 L650.50,232.24 L650.75,232.31 L651.00,232.38 L651.25,232.45 L651.50,232.53 L651.75,232.60 L652.00,232.67 L652.25,232.74 L652.50,232.82 L652.75,232.89 L653.00,232.96 L653.25,233.03 L653.50,233.11 L653.75,233.18 L654.00,233.25 L654.25,233.33 L654.50,233.40 L654.75,233.47 L655.00,233.55 L655.25,233.62 L655.50,233.70 L655.75,233.77 L656.00,233.84 L656.25,233.92 L656.50,233.99 L656.75,234.07 L657.00,234.14 L657.25,234.22 L657.50,234.29 L657.75,234.36 L658.00,234.44 L658.25,234.51 L658.50,234.59 L658.75,234.66 L659.00,234.74 L659.25,234.82 L659.50,234.89 L659.75,234.97 L660.00,235.04 L660.25,235.12 L660.50,235.19 L660.75,235.27 L661.00,235.35 L661.25,235.42 L661.50,235.50 L661.75,235.58 L662.00,235.65 L662.25,235.73 L662.50,235.81 L662.75,235.88 L663.00,235.96 L663.25,236.04 L663.50,236.11 L663.75,236.19 L664.00,236.27 L664.25,236.35 L664.50,236.43 L664.75,236.50 L665.00,236.58 L665.25,236.66 L665.50,236.74 L665.75,236.82 L666.00,236.89 L666.25,236.97 L666.50,237.05 L666.75,237.13 L667.00,237.21 L667.25,237.29 L667.50,237.37 L667.75,237.45 L668.00,237.53 L668.25,237.61 L668.50,237.69 L668.75,237.77 L669.00,237.85 L669.25,237.93 L669.50,238.01 L669.75,238.09 L670.00,238.17 L670.25,238.25 L670.50,238.33 L670.75,238.41 L671.00,238.49 L671.25,238.57 L671.50,238.65 L671.75,238.73 L672.00,238.81 L672.25,238.90 L672.50,238.98 L672.75,239.06 L673.00,239.14 L673.25,239.22 L673.50,239.31 L673.75,239.39 L674.00,239.47 L674.25,239.55 L674.50,239.64 L674.75,239.72 L675.00,239.80 L675.25,239.88 L675.50,239.97 L675.75,240.05 L676.00,240.13 L676.25,240.22 L676.50,240.30 L676.75,240.39 L677.00,240.47 L677.25,240.55 L677.50,240.64 L677.75,240.72 L678.00,240.81 L678.25,240.89 L678.50,240.98 L678.75,241.06 L679.00,241.15 L679.25,241.23 L679.50,241.32 L679.75,241.40 L680.00,241.49 L680.25,241.57 L680.50,241.66 L680.75,241.74 L681.00,241.83 L681.25,241.92 L681.50,242.00 L681.75,242.09 L682.00,242.18 L682.25,242.26 L682.50,242.35 L682.75,242.44 L683.00,242.53 L683.25,242.61 L683.50,242.70" fill="none" stroke="#000" stroke-width="1.1" stroke-linejoin="round"/>
<path d="M37.50,181.10 L37.65,181.13 L37.80,181.16 L37.95,181.18 L38.10,181.21 L38.25,181.24 L38.40,181.27 L38.55,181.29 L38.70,181.32 L38.85,181.35 L39.00,181.38 L39.15,181.41 L39.30,181.43 L39.45,181.46 L39.60,181.49 L39.75,181.52 L39.90,181.55 L40.05,181.57 L40.20,181.60 L40.35,181.63 L40.50,181.66 L40.65,181.68 L40.80,181.71 L40.95,181.74 L41.10,181.77 L41.25,181.79 L41.40,181.82 L41.55,181.85 L41.70,181.88 L41.85,181.91 L42.00,181.93 L42.15,181.96 L42.30,181.99 L42.45,182.02 L42.60,182.04 L42.75,182.07 L42.90,182.10 L43.05,182.13 L43.20,182.15 L43.35,182.18 L43.50,182.21 L43.65,182.24 L43.80,182.27 L43.95,182.29 L44.10,182.32 L44.25,182.35 L44.40,182.38 L44.55,182.40 L44.70,182.43 L44.85,182.46 L45.00,182.49 L45.15,182.51 L45.30,182.54 L45.45,182.57 L45.60,182.60 L45.75,182.62 L45.90,182.65 L46.05,182.68 L46.20,182.71 L46.35,182.73 L46.50,182.76 L46.65,182.79 L46.80,182.82 L46.95,182.84 L47.10,182.87 L47.25,182.90 L47.40,182.93 L47.55,182.95 L47.70,182.98 L47.85,183.01 L48.00,183.04 L48.15,183.06 L48.30,183.09 L48.45,183.12 L48.60,183.14 L48.75,183.17 L48.90,183.20 L49.05,183.23 L49.20,183.25 L49.35,183.28 L49.50,183.31 L49.65,183.34 L49.80,183.36 L49.95,183.39 L50.10,183.42 L50.25,183.45 L50.40,183.47 L50.55,183.50 L50.70,183.53 L50.85,183.55 L51.00,183.58 L51.15,183.61 L51.30,183.64 L51.45,183.66 L51.60,183.69 L51.75,183.72 L51.90,183.74 L52.05,183.77 L52.20,183.80 L52.35,183.83 L52.50,183.85 L52.65,183.88 L52.80,183.91 L52.95,183.93 L53.10,183.96 L53.25,183.99 L53.40,184.02 L53.55,184.04 L53.70,184.07 L53.85,184.10 L54.00,184.12 L54.15,184.15 L54.30,184.18 L54.45,184.21 L54.60,184.23 L54.75,184.26 L54.90,184.29 L55.05,184.31 L55.20,184.34 L55.35,184.37 L55.50,184.39 L55.65,184.42 L55.80,184.45 L55.95,184.48 L56.10,184.50 L56.25,184.53 L56.40,184.56 L56.55,184.58 L56.70,184.61 L56.85,184.64 L57.00,184.66 L57.15,184.69 L57.30,184.72 L57.45,184.74 L57.60,184.77 L57.75,184.80 L57.90,184.83 L58.05,184.85 L58.20,184.88 L58.35,184.91 L58.50,184.93 L58.65,184.96 L58.80,184.99 L58.95,185.01 L59.10,185.04 L59.25,185.07 L59.40,185.09 L59.55,185.12 L59.70,185.15 L59.85,185.18 L60.00,185.20 L60.15,185.23 L60.30,185.26 L60.45,185.28 L60.60,185.31 L60.75,185.34 L60.90,185.36 L61.05,185.39 L61.20,185.42 L61.35,185.44 L61.50,185.47 L61.65,185.50 L61.80,185.53 L61.95,185.55 L62.10,185.58 L62.25,185.61 L62.40,185.63 L62.55,185.66 L62.70,185.69 L62.85,185.71 L63.00,185.74 L63.15,185.77 L63.30,185.79 L63.45,185.82 L63.60,185.85 L63.75,185.88 L63.90,185.90 L64.05,185.93 L64.20,185.96 L64.35,185.98 L64.50,186.01 L64.65,186.04 L64.80,186.06 L64.95,186.09 L65.10,186.12 L65.25,186.14 L65.40,186.17 L65.55,186.20 L65.70,186.23 L65.85,186.25 L66.00,186.28 L66.15,186.31 L66.30,186.33 L66.45,186.36 L66.60,186.39 L66.75,186.41 L66.90,186.44 L67.05,186.47 L67.20,186.49 L67.35,186.52 L67.50,186.55 L67.65,186.58 L67.80,186.60 L67.95,186.63 L68.10,186.66 L68.25,186.68 L68.40,186.71 L68.55,186.74 L68.70,186.76 L68.85,186.79 L69.00,186.82 L69.15,186.84 L69.30,186.87 L69.45,186.90 L69.60,186.92 L69.75,186.95 L69.90,186.98 L70.05,187.00 L70.20,187.03 L70.35,187.06 L70.50,187.08 L70.65,187.11 L70.80,187.14 L70.95,187.17 L71.10,187.19 L71.25,187.22 L71.40,187.25 L71.55,187.27 L71.70,187.30 L71.85,187.33 L72.00,187.35 L72.15,187.38 L72.30,187.41 L72.45,187.43 L72.60,187.46 L72.75,187.49 L72.90,187.51 L73.05,187.54 L73.20,187.57 L73.35,187.59 L73.50,187.62 L73.65,187.65 L73.80,187.68 L73.95,187.70 L74.10,187.73 L74.25,187.76 L74.40,187.78 L74.55,187.81 L74.70,187.84 L74.85,187.86 L75.00,187.89 L75.15,187.92 L75.30,187.95 L75.45,187.97 L75.60,188.00 L75.75,188.03 L75.90,188.05 L76.05,188.08 L76.20,188.11 L76.35,188.13 L76.50,188.16 L76.65,188.19 L76.80,188.22 L76.95,188.24 L77.10,188.27 L77.25,188.30 L77.40,188.32 L77.55,188.35 L77.70,188.38 L77.85,188.41 L78.00,188.43 L78.15,188.46 L78.30,188.49 L78.45,188.52 L78.60,188.54 L78.75,188.57 L78.90,188.60 L79.05,188.63 L79.20,188.65 L79.35,188.68 L79.50,188.71 L79.65,188.74 L79.80,188.76 L79.95,188.79 L80.10,188.82 L80.25,188.85 L80.40,188.87 L80.55,188.90 L80.70,188.93 L80.85,188.96 L81.00,188.99 L81.15,189.01 L81.30,189.04 L81.45,189.07 L81.60,189.10 L81.75,189.13 L81.90,189.15 L82.05,189.18 L82.20,189.21 L82.35,189.24 L82.50,189.27 L82.65,189.30 L82.80,189.32 L82.95,189.35 L83.10,189.38 L83.25,189.41 L83.40,189.44 L83.55,189.47 L83.70,189.49 L83.85,189.52 L84.00,189.55 L84.15,189.58 L84.30,189.61 L84.45,189.64 L84.60,189.67 L84.75,189.69 L84.90,189.72 L85.05,189.75 L85.20,189.78 L85.35,189.81 L85.50,189.84 L85.65,189.86 L85.80,189.89 L85.95,189.92 L86.10,189.95 L86.25,189.98 L86.40,190.00 L86.55,190.03 L86.70,190.06 L86.85,190.09 L87.00,190.12 L87.15,190.14 L87.30,190.17 L87.45,190.20 L87.60,190.23 L87.75,190.25 L87.90,190.28 L88.05,190.31 L88.20,190.33 L88.35,190.36 L88.50,190.38 L88.65,190.40 L88.80,190.42 L88.95,190.44 L89.10,190.45 L89.25,190.47 L89.40,190.48 L89.55,190.50 L89.70,190.51 L89.85,190.53 L90.00,190.54 L90.15,190.55 L90.30,190.57 L90.45,190.58 L90.60,190.60 L90.75,190.61 L90.90,190.63 L91.05,190.65 L91.20,190.67 L91.35,190.69 L91.50,190.71 L91.65,190.74 L91.80,190.76 L91.95,190.79 L92.10,190.82 L92.25,190.86 L92.40,190.89 L92.55,190.93 L92.70,190.97 L92.85,191.02 L93.00,191.07 L93.15,191.12 L93.30,191.18 L93.45,191.24 L93.60,191.30 L93.75,191.48 L93.90,191.87 L94.05,192.39 L94.20,193.00 L94.35,193.81 L94.50,194.95 L94.65,196.37 L94.80,198.00 L94.95,200.28 L95.10,203.21 L95.25,206.14 L95.40,208.76 L95.55,211.37 L95.70,213.00 L95.85,213.68 L96.00,214.19 L96.15,214.58 L96.30,214.89 L96.45,215.19 L96.60,215.49 L96.75,215.72 L96.90,215.91 L97.05,216.10 L97.20,216.31 L97.35,216.60 L97.50,217.00 L97.65,217.91 L97.80,219.47 L97.95,221.29 L98.10,223.00 L98.25,224.87 L98.40,226.86 L98.55,228.10 L98.70,228.11 L98.85,227.74 L99.00,227.20 L99.15,226.66 L99.30,226.29 L99.45,226.22 L99.60,226.55 L99.75,227.14 L99.90,227.83 L100.05,228.47 L100.20,228.90 L100.35,228.97 L100.50,228.58 L100.65,227.82 L100.80,226.81 L100.95,225.65 L101.10,224.47 L101.25,223.38 L101.40,222.50 L101.55,221.77 L101.70,221.06 L101.85,220.38 L102.00,219.72 L102.15,219.08 L102.30,218.46 L102.45,217.86 L102.60,217.27 L102.75,216.71 L102.90,216.16 L103.05,215.62 L103.20,215.12 L103.35,214.64 L103.50,214.19 L103.65,213.75 L103.80,213.33 L103.95,212.92 L104.10,212.52 L104.25,212.13 L104.40,211.73 L104.55,211.32 L104.70,210.91 L104.85,210.48 L105.00,210.04 L105.15,209.57 L105.30,209.08 L105.45,208.56 L105.60,208.00 L105.75,207.43 L105.90,206.87 L106.05,206.29 L106.20,205.69 L106.35,205.05 L106.50,204.35 L106.65,203.59 L106.80,202.75 L106.95,201.81 L107.10,200.77 L107.25,199.57 L107.40,197.91 L107.55,195.79 L107.70,193.35 L107.85,190.71 L108.00,188.00 L108.15,185.34 L108.30,182.62 L108.45,179.59 L108.60,176.01 L108.75,171.66 L108.90,165.70 L109.05,156.66 L109.20,145.63 L109.35,133.86 L109.50,121.19 L109.65,106.36 L109.80,95.00 L109.95,87.60 L110.10,84.00 L110.25,85.49 L110.40,89.08 L110.55,94.22 L110.70,104.51 L110.85,106.78 L111.00,94.04 L111.15,81.45 L111.30,70.26 L111.45,59.63 L111.60,51.35 L111.75,46.89 L111.90,43.75 L112.05,40.93 L112.20,38.48 L112.35,36.43 L112.50,34.81 L112.65,33.66 L112.80,33.02 L112.95,33.00 L113.10,34.43 L113.25,37.47 L113.40,42.00 L113.55,47.88 L113.70,55.00 L113.85,72.24 L114.00,100.67 L114.15,130.55 L114.30,167.47 L114.45,181.05 L114.60,183.59 L114.75,185.38 L114.90,186.58 L115.05,187.39 L115.20,188.00 L115.35,188.54 L115.50,189.04 L115.65,189.50 L115.80,189.93 L115.95,190.32 L116.10,190.67 L116.25,191.00 L116.40,191.29 L116.55,191.56 L116.70,191.80 L116.85,192.02 L117.00,192.21 L117.15,192.39 L117.30,192.54 L117.45,192.68 L117.60,192.80 L117.75,192.91 L117.90,193.03 L118.05,193.13 L118.20,193.23 L118.35,193.33 L118.50,193.41 L118.65,193.48 L118.80,193.53 L118.95,193.57 L119.10,193.60 L119.25,193.60 L119.40,193.59 L119.55,193.56 L119.70,193.52 L119.85,193.47 L120.00,193.41 L120.15,193.33 L120.30,193.24 L120.45,193.14 L120.60,193.02 L120.75,192.90 L120.90,192.76 L121.05,192.62 L121.20,192.46 L121.35,192.30 L121.50,192.12 L121.65,191.93 L121.80,191.64 L121.95,191.24 L122.10,190.72 L122.25,190.10 L122.40,189.38 L122.55,188.55 L122.70,187.64 L122.85,186.64 L123.00,185.56 L123.15,184.40 L123.30,183.02 L123.45,181.04 L123.60,178.61 L123.75,175.92 L123.90,173.12 L124.05,170.09 L124.20,166.80 L124.35,163.18 L124.50,159.20 L124.65,154.83 L124.80,150.00 L124.95,144.24 L125.10,137.29 L125.25,129.51 L125.40,121.23 L125.55,112.79 L125.70,104.15 L125.85,94.56 L126.00,84.51 L126.15,74.60 L126.30,65.42 L126.45,57.38 L126.60,48.89 L126.75,40.57 L126.90,33.88 L127.05,30.27 L127.20,30.37 L127.35,31.91 L127.50,33.94 L127.65,35.64 L127.80,36.57 L127.95,37.35 L128.10,37.88 L128.25,37.85 L128.40,35.97 L128.55,32.71 L128.70,29.11 L128.85,26.20 L129.00,25.00 L129.15,26.68 L129.30,31.14 L129.45,37.50 L129.60,44.91 L129.75,52.69 L129.90,62.64 L130.05,74.97 L130.20,89.16 L130.35,104.64 L130.50,123.14 L130.65,146.64 L130.80,165.00 L130.95,176.77 L131.10,185.52 L131.25,188.36 L131.40,189.34 L131.55,190.20 L131.70,190.95 L131.85,191.60 L132.00,192.16 L132.15,192.64 L132.30,193.06 L132.45,193.41 L132.60,193.71 L132.75,193.97 L132.90,194.21 L133.05,194.42 L133.20,194.62 L133.35,194.83 L133.50,195.05 L133.65,195.28 L133.80,195.51 L133.95,195.74 L134.10,195.96 L134.25,196.16 L134.40,196.37 L134.55,196.56 L134.70,196.74 L134.85,196.92 L135.00,197.09 L135.15,197.25 L135.30,197.41 L135.45,197.56 L135.60,197.70 L135.75,197.83 L135.90,197.96 L136.05,198.08 L136.20,198.20 L136.35,198.31 L136.50,198.41 L136.65,198.51 L136.80,198.60 L136.95,198.69 L137.10,198.77 L137.25,198.86 L137.40,198.94 L137.55,199.01 L137.70,199.09 L137.85,199.17 L138.00,199.24 L138.15,199.31 L138.30,199.38 L138.45,199.44 L138.60,199.51 L138.75,199.57 L138.90,199.64 L139.05,199.70 L139.20,199.76 L139.35,199.81 L139.50,199.87 L139.65,199.93 L139.80,199.98 L139.95,200.03 L140.10,200.09 L140.25,200.14 L140.40,200.19 L140.55,200.24 L140.70,200.29 L140.85,200.33 L141.00,200.38 L141.15,200.43 L141.30,200.47 L141.45,200.52 L141.60,200.57 L141.75,200.61 L141.90,200.66 L142.05,200.70 L142.20,200.75 L142.35,200.79 L142.50,200.84 L142.65,200.88 L142.80,200.93 L142.95,200.97 L143.10,201.02 L143.25,201.06 L143.40,201.11 L143.55,201.16 L143.70,201.20 L143.85,201.25 L144.00,201.30 L144.15,201.35 L144.30,201.40 L144.45,201.45 L144.60,201.50 L144.75,201.55 L144.90,201.59 L145.05,201.64 L145.20,201.69 L145.35,201.73 L145.50,201.78 L145.65,201.82 L145.80,201.86 L145.95,201.90 L146.10,201.95 L146.25,201.99 L146.40,202.03 L146.55,202.07 L146.70,202.11 L146.85,202.15 L147.00,202.19 L147.15,202.23 L147.30,202.27 L147.45,202.31 L147.60,202.35 L147.75,202.39 L147.90,202.43 L148.05,202.48 L148.20,202.52 L148.35,202.56 L148.50,202.60 L148.65,202.64 L148.80,202.69 L148.95,202.73 L149.10,202.78 L149.25,202.82 L149.40,202.87 L149.55,202.92 L149.70,202.97 L149.85,203.02 L150.00,203.07 L150.15,203.12 L150.30,203.17 L150.45,203.22 L150.60,203.28 L150.75,203.34 L150.90,203.39 L151.05,203.45 L151.20,203.52 L151.35,203.58 L151.50,203.64 L151.65,203.71 L151.80,203.78 L151.95,203.86 L152.10,203.93 L152.25,204.01 L152.40,204.09 L152.55,204.17 L152.70,204.26 L152.85,204.35 L153.00,204.44 L153.15,204.53 L153.30,204.63 L153.45,204.72 L153.60,204.82 L153.75,204.92 L153.90,205.02 L154.05,205.13 L154.20,205.23 L154.35,205.34 L154.50,205.45 L154.65,205.56 L154.80,205.67 L154.95,205.78 L155.10,205.89 L155.25,206.00 L155.40,206.12 L155.55,206.23 L155.70,206.35 L155.85,206.46 L156.00,206.58 L156.15,206.70 L156.30,206.82 L156.45,206.93 L156.60,207.05 L156.75,207.17 L156.90,207.29 L157.05,207.41 L157.20,207.52 L157.35,207.64 L157.50,207.76 L157.65,207.88 L157.80,207.99 L157.95,208.11 L158.10,208.22 L158.25,208.34 L158.40,208.45 L158.55,208.56 L158.70,208.67 L158.85,208.79 L159.00,208.90 L159.15,209.02 L159.30,209.14 L159.45,209.26 L159.60,209.38 L159.75,209.51 L159.90,209.63 L160.05,209.75 L160.20,209.88 L160.35,210.01 L160.50,210.14 L160.65,210.26 L160.80,210.39 L160.95,210.52 L161.10,210.65 L161.25,210.78 L161.40,210.91 L161.55,211.04 L161.70,211.17 L161.85,211.30 L162.00,211.43 L162.15,211.56 L162.30,211.69 L162.45,211.82 L162.60,211.95 L162.75,212.08 L162.90,212.20 L163.05,212.33 L163.20,212.46 L163.35,212.58 L163.50,212.70 L163.65,212.82 L163.80,212.94 L163.95,213.06 L164.10,213.18 L164.25,213.29 L164.40,213.41 L164.55,213.52 L164.70,213.63 L164.85,213.74 L165.00,213.84 L165.15,213.94 L165.30,214.04 L165.45,214.14 L165.60,214.24 L165.75,214.33 L165.90,214.42 L166.05,214.52 L166.20,214.62 L166.35,214.71 L166.50,214.81 L166.65,214.91 L166.80,215.01 L166.95,215.11 L167.10,215.22 L167.25,215.32 L167.40,215.42 L167.55,215.52 L167.70,215.62 L167.85,215.72 L168.00,215.82 L168.15,215.92 L168.30,216.02 L168.45,216.12 L168.60,216.22 L168.75,216.32 L168.90,216.41 L169.05,216.50 L169.20,216.59 L169.35,216.68 L169.50,216.77 L169.65,216.86 L169.80,216.94 L169.95,217.02 L170.10,217.10 L170.25,217.18 L170.40,217.25 L170.55,217.32 L170.70,217.38 L170.85,217.45 L171.00,217.51 L171.15,217.56 L171.30,217.62 L171.45,217.66 L171.60,217.71 L171.75,217.75 L171.90,217.78 L172.05,217.82 L172.20,217.84 L172.35,217.86 L172.50,217.88 L172.65,217.89 L172.80,217.90 L172.95,217.90 L173.10,217.90 L173.25,217.90 L173.40,217.90 L173.55,217.90 L173.70,217.90 L173.85,217.90 L174.00,217.90 L174.15,217.90 L174.30,217.90 L174.45,217.90 L174.60,217.90 L174.75,217.90 L174.90,217.90 L175.05,217.90 L175.20,217.90 L175.35,217.90 L175.50,217.90 L175.65,217.90 L175.80,217.90 L175.95,217.90 L176.10,217.90 L176.25,217.90 L176.40,217.90 L176.55,217.90 L176.70,217.90 L176.85,217.90 L177.00,217.90 L177.15,217.90 L177.30,217.90 L177.45,217.90 L177.60,217.90 L177.75,217.90 L177.90,217.90 L178.05,217.90 L178.20,217.90 L178.35,217.90 L178.50,217.90 L178.65,217.90 L178.80,217.90 L178.95,217.90 L179.10,217.90 L179.25,217.90 L179.40,217.90 L179.55,217.90 L179.70,217.90 L179.85,217.90 L180.00,217.90 L180.15,217.90 L180.30,217.90 L180.45,217.90 L180.60,217.90 L180.75,217.90 L180.90,217.90 L181.05,217.90 L181.20,217.90 L181.35,217.90 L181.50,217.90 L181.65,217.88 L181.80,217.85 L181.95,217.81 L182.10,217.76 L182.25,217.70 L182.40,217.63 L182.55,217.56 L182.70,217.47 L182.85,217.38 L183.00,217.28 L183.15,217.17 L183.30,217.06 L183.45,216.94 L183.60,216.82 L183.75,216.70 L183.90,216.58 L184.05,216.45 L184.20,216.33 L184.35,216.20 L184.50,216.08 L184.65,215.96 L184.80,215.83 L184.95,215.72 L185.10,215.60 L185.25,215.49 L185.40,215.39 L185.55,215.29 L185.70,215.20 L185.85,215.12 L186.00,215.04 L186.15,214.97 L186.30,214.91 L186.45,214.85 L186.60,214.79 L186.75,214.74 L186.90,214.68 L187.05,214.62 L187.20,214.56 L187.35,214.50 L187.50,214.42 L187.65,214.35 L187.80,214.26 L187.95,214.16 L188.10,214.06 L188.25,213.94 L188.40,213.80 L188.55,213.65 L188.70,213.47 L188.85,213.21 L189.00,212.85 L189.15,212.37 L189.30,211.74 L189.45,210.96 L189.60,210.00 L189.75,207.26 L189.90,202.27 L190.05,196.70 L190.20,191.56 L190.35,185.80 L190.50,179.73 L190.65,173.79 L190.80,168.44 L190.95,164.13 L191.10,160.91 L191.25,157.80 L191.40,154.84 L191.55,152.18 L191.70,149.95 L191.85,148.28 L192.00,147.30 L192.15,147.15 L192.30,147.84 L192.45,149.25 L192.60,151.27 L192.75,153.77 L192.90,156.64 L193.05,159.76 L193.20,163.00 L193.35,167.31 L193.50,173.20 L193.65,179.97 L193.80,186.86 L193.95,193.16 L194.10,198.67 L194.25,204.36 L194.40,209.50 L194.55,213.22 L194.70,215.20 L194.85,216.70 L195.00,217.84 L195.15,218.62 L195.30,219.11 L195.45,219.56 L195.60,219.99 L195.75,220.40 L195.90,220.78 L196.05,221.14 L196.20,221.48 L196.35,221.80 L196.50,222.10 L196.65,222.38 L196.80,222.64 L196.95,222.88 L197.10,223.10 L197.25,223.30 L197.40,223.48 L197.55,223.64 L197.70,223.79 L197.85,223.91 L198.00,224.02 L198.15,224.12 L198.30,224.19 L198.45,224.26 L198.60,224.30 L198.75,224.34 L198.90,224.37 L199.05,224.41 L199.20,224.44 L199.35,224.47 L199.50,224.50 L199.65,224.53 L199.80,224.56 L199.95,224.59 L200.10,224.62 L200.25,224.65 L200.40,224.67 L200.55,224.70 L200.70,224.72 L200.85,224.74 L201.00,224.77 L201.15,224.79 L201.30,224.81 L201.45,224.83 L201.60,224.84 L201.75,224.86 L201.90,224.88 L202.05,224.89 L202.20,224.91 L202.35,224.92 L202.50,224.93 L202.65,224.94 L202.80,224.95 L202.95,224.96 L203.10,224.97 L203.25,224.98 L203.40,224.98 L203.55,224.99 L203.70,224.99 L203.85,225.00 L204.00,225.00 L204.15,225.00 L204.30,225.00 L204.45,225.00 L204.60,224.98 L204.75,224.96 L204.90,224.94 L205.05,224.90 L205.20,224.86 L205.35,224.81 L205.50,224.76 L205.65,224.69 L205.80,224.63 L205.95,224.55 L206.10,224.47 L206.25,224.38 L206.40,224.29 L206.55,224.19 L206.70,224.08 L206.85,223.97 L207.00,223.86 L207.15,223.74 L207.30,223.61 L207.45,223.48 L207.60,223.35 L207.75,223.21 L207.90,223.06 L208.05,222.92 L208.20,222.76 L208.35,222.61 L208.50,222.45 L208.65,222.29 L208.80,222.12 L208.95,221.95 L209.10,221.78 L209.25,221.61 L209.40,221.43 L209.55,221.25 L209.70,221.07 L209.85,220.89 L210.00,220.70 L210.15,220.52 L210.30,220.33 L210.45,220.14 L210.60,219.94 L210.75,219.71 L210.90,219.45 L211.05,219.16 L211.20,218.83 L211.35,218.44 L211.50,218.00 L211.65,217.49 L211.80,216.90 L211.95,216.24 L212.10,215.12 L212.25,212.54 L212.40,208.86 L212.55,204.53 L212.70,200.00 L212.85,194.51 L213.00,187.57 L213.15,180.04 L213.30,172.77 L213.45,166.64 L213.60,161.90 L213.75,157.14 L213.90,152.56 L214.05,148.45 L214.20,145.13 L214.35,142.91 L214.50,142.10 L214.65,142.92 L214.80,145.17 L214.95,148.52 L215.10,152.65 L215.25,157.24 L215.40,161.95 L215.55,166.63 L215.70,172.84 L215.85,180.19 L216.00,187.57 L216.15,193.87 L216.30,198.00 L216.45,200.60 L216.60,203.02 L216.75,205.18 L216.90,207.02 L217.05,208.48 L217.20,209.48 L217.35,209.97 L217.50,209.94 L217.65,209.64 L217.80,209.16 L217.95,208.55 L218.10,207.88 L218.25,207.21 L218.40,206.51 L218.55,205.54 L218.70,204.43 L218.85,203.32 L219.00,202.35 L219.15,201.66 L219.30,201.40 L219.45,201.66 L219.60,202.35 L219.75,203.36 L219.90,204.55 L220.05,205.80 L220.20,207.00 L220.35,208.25 L220.50,209.72 L220.65,211.31 L220.80,212.96 L220.95,214.59 L221.10,216.13 L221.25,217.49 L221.40,218.60 L221.55,219.56 L221.70,220.53 L221.85,221.48 L222.00,222.41 L222.15,223.31 L222.30,224.17 L222.45,224.98 L222.60,225.74 L222.75,226.43 L222.90,227.04 L223.05,227.56 L223.20,227.99 L223.35,228.32 L223.50,228.53 L223.65,228.62 L223.80,228.68 L223.95,228.75 L224.10,228.80 L224.25,228.86 L224.40,228.91 L224.55,228.97 L224.70,229.01 L224.85,229.06 L225.00,229.11 L225.15,229.15 L225.30,229.19 L225.45,229.23 L225.60,229.27 L225.75,229.30 L225.90,229.33 L226.05,229.36 L226.20,229.39 L226.35,229.42 L226.50,229.44 L226.65,229.46 L226.80,229.48 L226.95,229.50 L227.10,229.52 L227.25,229.54 L227.40,229.55 L227.55,229.56 L227.70,229.57 L227.85,229.58 L228.00,229.59 L228.15,229.59 L228.30,229.60 L228.45,229.60 L228.60,229.60 L228.75,229.59 L228.90,229.57 L229.05,229.54 L229.20,229.50 L229.35,229.44 L229.50,229.38 L229.65,229.31 L229.80,229.22 L229.95,229.13 L230.10,229.04 L230.25,228.93 L230.40,228.82 L230.55,228.71 L230.70,228.59 L230.85,228.46 L231.00,228.33 L231.15,228.21 L231.30,228.07 L231.45,227.94 L231.60,227.81 L231.75,227.68 L231.90,227.55 L232.05,227.42 L232.20,227.30 L232.35,227.17 L232.50,227.05 L232.65,226.94 L232.80,226.83 L232.95,226.73 L233.10,226.63 L233.25,226.55 L233.40,226.47 L233.55,226.40 L233.70,226.33 L233.85,226.28 L234.00,226.24 L234.15,226.22 L234.30,226.20 L234.45,226.19 L234.60,226.18 L234.75,226.18 L234.90,226.17 L235.05,226.16 L235.20,226.16 L235.35,226.15 L235.50,226.15 L235.65,226.14 L235.80,226.14 L235.95,226.14 L236.10,226.13 L236.25,226.13 L236.40,226.13 L236.55,226.13 L236.70,226.12 L236.85,226.12 L237.00,226.12 L237.15,226.12 L237.30,226.12 L237.45,226.12 L237.60,226.11 L237.75,226.11 L237.90,226.11 L238.05,226.11 L238.20,226.11 L238.35,226.10 L238.50,226.10 L238.65,226.10 L238.80,226.09 L238.95,226.09 L239.10,226.08 L239.25,226.08 L239.40,226.07 L239.55,226.07 L239.70,226.06 L239.85,226.05 L240.00,226.05 L240.15,226.04 L240.30,226.03 L240.45,226.02 L240.60,226.01 L240.75,225.99 L240.90,225.87 L241.05,225.62 L241.20,225.27 L241.35,224.82 L241.50,224.28 L241.65,223.66 L241.80,222.98 L241.95,222.25 L242.10,221.33 L242.25,219.80 L242.40,217.78 L242.55,215.43 L242.70,212.88 L242.85,210.30 L243.00,207.83 L243.15,205.64 L243.30,203.70 L243.45,201.56 L243.60,199.36 L243.75,197.25 L243.90,195.39 L244.05,193.95 L244.20,193.08 L244.35,192.95 L244.50,193.59 L244.65,194.87 L244.80,196.62 L244.95,198.67 L245.10,200.86 L245.25,203.02 L245.40,205.00 L245.55,207.04 L245.70,209.39 L245.85,211.87 L246.00,214.32 L246.15,216.56 L246.30,218.42 L246.45,219.72 L246.60,220.47 L246.75,221.13 L246.90,221.74 L247.05,222.30 L247.20,222.78 L247.35,223.19 L247.50,223.51 L247.65,223.75 L247.80,223.87 L247.95,223.90 L248.10,223.90 L248.25,223.90 L248.40,223.90 L248.55,223.90 L248.70,223.90 L248.85,223.90 L249.00,223.90 L249.15,223.90 L249.30,223.90 L249.45,223.90 L249.60,223.90 L249.75,223.90 L249.90,223.90 L250.05,223.90 L250.20,223.90 L250.35,223.90 L250.50,223.90 L250.65,223.90 L250.80,223.90 L250.95,223.90 L251.10,223.90 L251.25,223.90 L251.40,223.90 L251.55,223.90 L251.70,223.90 L251.85,223.90 L252.00,223.90 L252.15,223.90 L252.30,223.90 L252.45,223.90 L252.60,223.90 L252.75,223.90 L252.90,223.90 L253.05,223.89 L253.20,223.86 L253.35,223.80 L253.50,223.74 L253.65,223.65 L253.80,223.55 L253.95,223.44 L254.10,223.31 L254.25,223.18 L254.40,223.04 L254.55,222.89 L254.70,222.74 L254.85,222.59 L255.00,222.43 L255.15,222.28 L255.30,222.13 L255.45,221.98 L255.60,221.84 L255.75,221.70 L255.90,221.58 L256.05,221.46 L256.20,221.34 L256.35,221.21 L256.50,221.07 L256.65,220.93 L256.80,220.78 L256.95,220.64 L257.10,220.49 L257.25,220.35 L257.40,220.22 L257.55,220.09 L257.70,219.97 L257.85,219.87 L258.00,219.78 L258.15,219.70 L258.30,219.65 L258.45,219.61 L258.60,219.60 L258.75,219.61 L258.90,219.63 L259.05,219.65 L259.20,219.69 L259.35,219.74 L259.50,219.80 L259.65,219.86 L259.80,219.93 L259.95,220.00 L260.10,220.07 L260.25,220.14 L260.40,220.22 L260.55,220.29 L260.70,220.37 L260.85,220.44 L261.00,220.50 L261.15,220.57 L261.30,220.64 L261.45,220.72 L261.60,220.80 L261.75,220.88 L261.90,220.97 L262.05,221.06 L262.20,221.14 L262.35,221.23 L262.50,221.31 L262.65,221.39 L262.80,221.46 L262.95,221.52 L263.10,221.58 L263.25,221.63 L263.40,221.67 L263.55,221.69 L263.70,221.71 L263.85,221.73 L264.00,221.74 L264.15,221.76 L264.30,221.77 L264.45,221.79 L264.60,221.80 L264.75,221.82 L264.90,221.83 L265.05,221.84 L265.20,221.86 L265.35,221.87 L265.50,221.89 L265.65,221.90 L265.80,221.91 L265.95,221.93 L266.10,221.94 L266.25,221.95 L266.40,221.96 L266.55,221.98 L266.70,221.99 L266.85,222.00 L267.00,222.01 L267.15,222.03 L267.30,222.04 L267.45,222.05 L267.60,222.06 L267.75,222.07 L267.90,222.08 L268.05,222.09 L268.20,222.10 L268.35,222.12 L268.50,222.13 L268.65,222.14 L268.80,222.15 L268.95,222.16 L269.10,222.17 L269.25,222.18 L269.40,222.19 L269.55,222.20 L269.70,222.21 L269.85,222.22 L270.00,222.22 L270.15,222.23 L270.30,222.24 L270.45,222.25 L270.60,222.26 L270.75,222.27 L270.90,222.28 L271.05,222.29 L271.20,222.29 L271.35,222.30 L271.50,222.31 L271.65,222.32 L271.80,222.33 L271.95,222.33 L272.10,222.34 L272.25,222.35 L272.40,222.36 L272.55,222.36 L272.70,222.37 L272.85,222.38 L273.00,222.38 L273.15,222.39 L273.30,222.40 L273.45,222.40 L273.60,222.41 L273.75,222.42 L273.90,222.42 L274.05,222.43 L274.20,222.44 L274.35,222.44 L274.50,222.45 L274.65,222.45 L274.80,222.46 L274.95,222.47 L275.10,222.47 L275.25,222.48 L275.40,222.48 L275.55,222.49 L275.70,222.49 L275.85,222.50 L276.00,222.50 L276.15,222.51 L276.30,222.51 L276.45,222.52 L276.60,222.52 L276.75,222.53 L276.90,222.53 L277.05,222.54 L277.20,222.54 L277.35,222.55 L277.50,222.55 L277.65,222.56 L277.80,222.56 L277.95,222.56 L278.10,222.57 L278.25,222.57 L278.40,222.58 L278.55,222.58 L278.70,222.59 L278.85,222.59 L279.00,222.59 L279.15,222.60 L279.30,222.60 L279.45,222.61 L279.60,222.61 L279.75,222.61 L279.90,222.62 L280.05,222.62 L280.20,222.62 L280.35,222.63 L280.50,222.63 L280.65,222.63 L280.80,222.64 L280.95,222.64 L281.10,222.64 L281.25,222.65 L281.40,222.65 L281.55,222.66 L281.70,222.66 L281.85,222.66 L282.00,222.66 L282.15,222.67 L282.30,222.67 L282.45,222.67 L282.60,222.68 L282.75,222.68 L282.90,222.68 L283.05,222.69 L283.20,222.69 L283.35,222.69 L283.50,222.70 L283.65,222.70 L283.80,222.70 L283.95,222.71 L284.10,222.71 L284.25,222.71 L284.40,222.72 L284.55,222.72 L284.70,222.72 L284.85,222.73 L285.00,222.73 L285.15,222.73 L285.30,222.73 L285.45,222.74 L285.60,222.74 L285.75,222.74 L285.90,222.75 L286.05,222.75 L286.20,222.75 L286.35,222.76 L286.50,222.76 L286.65,222.76 L286.80,222.77 L286.95,222.77 L287.10,222.77 L287.25,222.78 L287.40,222.78 L287.55,222.78 L287.70,222.79 L287.85,222.79 L288.00,222.79 L288.15,222.80 L288.30,222.80 L288.45,222.81 L288.60,222.81 L288.75,222.81 L288.90,222.82 L289.05,222.82 L289.20,222.82 L289.35,222.83 L289.50,222.83 L289.65,222.84 L289.80,222.84 L289.95,222.84 L290.10,222.85 L290.25,222.85 L290.40,222.86 L290.55,222.86 L290.70,222.87 L290.85,222.87 L291.00,222.87 L291.15,222.88 L291.30,222.88 L291.45,222.89 L291.60,222.89 L291.75,222.90 L291.90,222.90 L292.05,222.91 L292.20,222.91 L292.35,222.92 L292.50,222.92 L292.65,222.93 L292.80,222.93 L292.95,222.94 L293.10,222.94 L293.25,222.95 L293.40,222.95 L293.55,222.96 L293.70,222.97 L293.85,222.97 L294.00,222.98 L294.15,222.98 L294.30,222.99 L294.45,223.00 L294.60,223.00 L294.75,223.01 L294.90,223.01 L295.05,223.02 L295.20,223.03 L295.35,223.03 L295.50,223.04 L295.65,223.05 L295.80,223.06 L295.95,223.06 L296.10,223.07 L296.25,223.08 L296.40,223.08 L296.55,223.09 L296.70,223.10 L296.85,223.11 L297.00,223.12 L297.15,223.12 L297.30,223.13 L297.45,223.14 L297.60,223.15 L297.75,223.16 L297.90,223.17 L298.05,223.17 L298.20,223.18 L298.35,223.19 L298.50,223.20 L298.65,223.21 L298.80,223.22 L298.95,223.23 L299.10,223.24 L299.25,223.25 L299.40,223.26 L299.55,223.27 L299.70,223.28 L299.85,223.29 L300.00,223.30 L300.15,223.31 L300.30,223.32 L300.45,223.33 L300.60,223.34 L300.75,223.36 L300.90,223.37 L301.05,223.38 L301.20,223.39 L301.35,223.41 L301.50,223.42 L301.65,223.43 L301.80,223.45 L301.95,223.46 L302.10,223.47 L302.25,223.49 L302.40,223.50 L302.55,223.52 L302.70,223.53 L302.85,223.55 L303.00,223.56 L303.15,223.58 L303.30,223.59 L303.45,223.61 L303.60,223.63 L303.75,223.64 L303.90,223.66 L304.05,223.68 L304.20,223.69 L304.35,223.71 L304.50,223.73 L304.65,223.75 L304.80,223.77 L304.95,223.78 L305.10,223.80 L305.25,223.82 L305.40,223.84 L305.55,223.86 L305.70,223.88 L305.85,223.90 L306.00,223.92 L306.15,223.94 L306.30,223.96 L306.45,223.98 L306.60,224.00 L306.75,224.02 L306.90,224.04 L307.05,224.06 L307.20,224.08 L307.35,224.10 L307.50,224.12 L307.65,224.14 L307.80,224.17 L307.95,224.19 L308.10,224.21 L308.25,224.23 L308.40,224.25 L308.55,224.28 L308.70,224.30 L308.85,224.32 L309.00,224.34 L309.15,224.37 L309.30,224.39 L309.45,224.41 L309.60,224.44 L309.75,224.46 L309.90,224.48 L310.05,224.51 L310.20,224.53 L310.35,224.55 L310.50,224.58 L310.65,224.60 L310.80,224.63 L310.95,224.65 L311.10,224.67 L311.25,224.70 L311.40,224.72 L311.55,224.75 L311.70,224.77 L311.85,224.80 L312.00,224.82 L312.15,224.85 L312.30,224.87 L312.45,224.90 L312.60,224.92 L312.75,224.95 L312.90,224.97 L313.05,225.00 L313.20,225.02 L313.35,225.05 L313.50,225.07 L313.65,225.10 L313.80,225.13 L313.95,225.15 L314.10,225.18 L314.25,225.20 L314.40,225.23 L314.55,225.25 L314.70,225.28 L314.85,225.31 L315.00,225.33 L315.15,225.36 L315.30,225.38 L315.45,225.41 L315.60,225.44 L315.75,225.46 L315.90,225.49 L316.05,225.51 L316.20,225.54 L316.35,225.57 L316.50,225.59 L316.65,225.62 L316.80,225.64 L316.95,225.67 L317.10,225.70 L317.25,225.72 L317.40,225.75 L317.55,225.77 L317.70,225.80 L317.85,225.83 L318.00,225.85 L318.15,225.88 L318.30,225.90 L318.45,225.93 L318.60,225.96 L318.75,225.98 L318.90,226.01 L319.05,226.03 L319.20,226.06 L319.35,226.09 L319.50,226.11 L319.65,226.14 L319.80,226.16 L319.95,226.19 L320.10,226.21 L320.25,226.24 L320.40,226.26 L320.55,226.29 L320.70,226.31 L320.85,226.34 L321.00,226.36 L321.15,226.39 L321.30,226.41 L321.45,226.44 L321.60,226.46 L321.75,226.49 L321.90,226.51 L322.05,226.54 L322.20,226.56 L322.35,226.59 L322.50,226.61 L322.65,226.64 L322.80,226.66 L322.95,226.68 L323.10,226.71 L323.25,226.73 L323.40,226.76 L323.55,226.78 L323.70,226.80 L323.85,226.83 L324.00,226.85 L324.15,226.87 L324.30,226.89 L324.45,226.92 L324.60,226.94 L324.75,226.96 L324.90,226.99 L325.05,227.01 L325.20,227.03 L325.35,227.05 L325.50,227.08 L325.65,227.10 L325.80,227.12 L325.95,227.15 L326.10,227.17 L326.25,227.20 L326.40,227.22 L326.55,227.25 L326.70,227.27 L326.85,227.30 L327.00,227.32 L327.15,227.35 L327.30,227.37 L327.45,227.40 L327.60,227.43 L327.75,227.45 L327.90,227.48 L328.05,227.51 L328.20,227.54 L328.35,227.56 L328.50,227.59 L328.65,227.62 L328.80,227.65 L328.95,227.67 L329.10,227.70 L329.25,227.73 L329.40,227.76 L329.55,227.79 L329.70,227.82 L329.85,227.85 L330.00,227.88 L330.15,227.90 L330.30,227.93 L330.45,227.96 L330.60,227.99 L330.75,228.02 L330.90,228.05 L331.05,228.08 L331.20,228.11 L331.35,228.14 L331.50,228.17 L331.65,228.20 L331.80,228.23 L331.95,228.26 L332.10,228.29 L332.25,228.32 L332.40,228.35 L332.55,228.38 L332.70,228.41 L332.85,228.44 L333.00,228.47 L333.15,228.50 L333.30,228.53 L333.45,228.56 L333.60,228.59 L333.75,228.62 L333.90,228.64 L334.05,228.67 L334.20,228.70 L334.35,228.73 L334.50,228.76 L334.65,228.79 L334.80,228.82 L334.95,228.85 L335.10,228.88 L335.25,228.91 L335.40,228.93 L335.55,228.96 L335.70,228.99 L335.85,229.02 L336.00,229.05 L336.15,229.07 L336.30,229.10 L336.45,229.13 L336.60,229.15 L336.75,229.18 L336.90,229.21 L337.05,229.23 L337.20,229.26 L337.35,229.29 L337.50,229.31 L337.65,229.34 L337.80,229.36 L337.95,229.39 L338.10,229.41 L338.25,229.44 L338.40,229.46 L338.55,229.49 L338.70,229.51 L338.85,229.53 L339.00,229.56 L339.15,229.58 L339.30,229.60 L339.45,229.62 L339.60,229.65 L339.75,229.67 L339.90,229.69 L340.05,229.71 L340.20,229.73 L340.35,229.75 L340.50,229.77 L340.65,229.79 L340.80,229.81 L340.95,229.83 L341.10,229.85 L341.25,229.86 L341.40,229.88 L341.55,229.90 L341.70,229.92 L341.85,229.93 L342.00,229.95 L342.15,229.96 L342.30,229.98 L342.45,229.99 L342.60,230.01 L342.75,230.02 L342.90,230.04 L343.05,230.05 L343.20,230.06 L343.35,230.07 L343.50,230.08 L343.65,230.09 L343.80,230.11 L343.95,230.12 L344.10,230.12 L344.25,230.13 L344.40,230.14 L344.55,230.15 L344.70,230.16 L344.85,230.16 L345.00,230.17 L345.15,230.18 L345.30,230.18 L345.45,230.19 L345.60,230.19 L345.75,230.19 L345.90,230.20 L346.05,230.20 L346.20,230.20 L346.35,230.20 L346.50,230.20 L346.65,230.17 L346.80,230.09 L346.95,229.97 L347.10,229.83 L347.25,229.67 L347.40,229.50 L347.55,229.28 L347.70,228.96 L347.85,228.57 L348.00,228.13 L348.15,227.65 L348.30,227.15 L348.45,226.66 L348.60,226.20 L348.75,225.79 L348.90,225.44 L349.05,225.18 L349.20,225.03 L349.35,225.01 L349.50,225.12 L349.65,225.33 L349.80,225.61 L349.95,225.94 L350.10,226.27 L350.25,226.59 L350.40,226.85 L350.55,227.03 L350.70,227.10 L350.85,226.98 L351.00,226.63 L351.15,226.10 L351.30,225.42 L351.45,224.62 L351.60,223.74 L351.75,222.81 L351.90,221.87 L352.05,220.96 L352.20,220.10 L352.35,219.34 L352.50,218.70 L352.65,218.23 L352.80,217.96 L352.95,217.91 L353.10,218.06 L353.25,218.34 L353.40,218.72 L353.55,219.15 L353.70,219.60 L353.85,220.02 L354.00,220.37 L354.15,220.61 L354.30,220.70 L354.45,220.68 L354.60,220.62 L354.75,220.51 L354.90,220.37 L355.05,220.18 L355.20,219.94 L355.35,219.66 L355.50,219.34 L355.65,218.97 L355.80,218.55 L355.95,218.09 L356.10,217.57 L356.25,217.01 L356.40,216.40 L356.55,215.25 L356.70,213.12 L356.85,210.09 L357.00,206.25 L357.15,201.67 L357.30,194.46 L357.45,181.02 L357.60,166.85 L357.75,157.45 L357.90,149.86 L358.05,143.02 L358.20,137.81 L358.35,135.10 L358.50,135.25 L358.65,136.79 L358.80,139.01 L358.95,141.32 L359.10,143.50 L359.25,146.25 L359.40,149.01 L359.55,151.15 L359.70,152.00 L359.85,149.42 L360.00,142.72 L360.15,133.41 L360.30,119.33 L360.45,96.80 L360.60,76.51 L360.75,58.47 L360.90,50.47 L361.05,45.33 L361.20,41.75 L361.35,39.23 L361.50,37.03 L361.65,35.07 L361.80,33.51 L361.95,32.48 L362.10,32.10 L362.25,32.61 L362.40,33.98 L362.55,35.99 L362.70,38.44 L362.85,41.10 L363.00,44.01 L363.15,47.84 L363.30,52.54 L363.45,58.02 L363.60,64.99 L363.75,74.72 L363.90,84.65 L364.05,92.31 L364.20,99.52 L364.35,106.02 L364.50,110.35 L364.65,110.81 L364.80,104.53 L364.95,93.89 L365.10,77.94 L365.25,55.18 L365.40,42.50 L365.55,33.43 L365.70,28.00 L365.85,24.98 L366.00,22.47 L366.15,20.60 L366.30,19.52 L366.45,19.38 L366.60,20.50 L366.75,22.67 L366.90,25.57 L367.05,28.87 L367.20,32.55 L367.35,37.52 L367.50,43.95 L367.65,51.96 L367.80,63.34 L367.95,81.03 L368.10,100.00 L368.25,120.35 L368.40,140.56 L368.55,153.33 L368.70,162.20 L368.85,169.59 L369.00,175.71 L369.15,180.78 L369.30,185.00 L369.45,188.59 L369.60,191.65 L369.75,194.29 L369.90,196.60 L370.05,198.67 L370.20,200.66 L370.35,202.57 L370.50,204.42 L370.65,206.20 L370.80,207.90 L370.95,209.52 L371.10,211.05 L371.25,212.48 L371.40,213.82 L371.55,215.05 L371.70,216.17 L371.85,217.18 L372.00,218.07 L372.15,218.85 L372.30,219.55 L372.45,220.21 L372.60,220.83 L372.75,221.40 L372.90,221.94 L373.05,222.45 L373.20,222.92 L373.35,223.36 L373.50,223.77 L373.65,224.17 L373.80,224.54 L373.95,224.89 L374.10,225.23 L374.25,225.58 L374.40,225.93 L374.55,226.28 L374.70,226.62 L374.85,226.93 L375.00,227.21 L375.15,227.46 L375.30,227.66 L375.45,227.80 L375.60,227.88 L375.75,227.89 L375.90,227.82 L376.05,227.67 L376.20,227.44 L376.35,227.16 L376.50,226.82 L376.65,226.44 L376.80,226.03 L376.95,225.60 L377.10,225.16 L377.25,224.72 L377.40,224.28 L377.55,223.86 L377.70,223.45 L377.85,223.03 L378.00,222.59 L378.15,222.13 L378.30,221.65 L378.45,221.13 L378.60,220.56 L378.75,219.94 L378.90,219.26 L379.05,218.51 L379.20,217.69 L379.35,216.77 L379.50,215.47 L379.65,213.81 L379.80,211.89 L379.95,209.82 L380.10,207.70 L380.25,205.65 L380.40,203.75 L380.55,201.94 L380.70,200.16 L380.85,198.33 L381.00,196.38 L381.15,194.23 L381.30,191.80 L381.45,189.01 L381.60,185.54 L381.75,181.42 L381.90,176.83 L382.05,171.90 L382.20,166.80 L382.35,161.68 L382.50,156.39 L382.65,150.25 L382.80,143.83 L382.95,137.73 L383.10,132.59 L383.25,128.91 L383.40,125.66 L383.55,122.59 L383.70,119.93 L383.85,117.88 L384.00,116.65 L384.15,116.48 L384.30,117.59 L384.45,119.82 L384.60,122.92 L384.75,126.66 L384.90,131.93 L385.05,141.24 L385.20,152.54 L385.35,163.83 L385.50,177.04 L385.65,189.08 L385.80,197.21 L385.95,202.91 L386.10,201.57 L386.25,194.60 L386.40,185.82 L386.55,173.55 L386.70,160.00 L386.85,143.86 L387.00,127.34 L387.15,117.58 L387.30,110.76 L387.45,104.86 L387.60,100.22 L387.75,97.19 L387.90,96.10 L388.05,96.64 L388.20,98.18 L388.35,100.60 L388.50,103.77 L388.65,107.58 L388.80,111.90 L388.95,116.84 L389.10,125.09 L389.25,136.57 L389.40,150.23 L389.55,165.84 L389.70,188.20 L389.85,204.05 L390.00,215.31 L390.15,223.88 L390.30,228.00 L390.45,229.20 L390.60,230.17 L390.75,230.95 L390.90,231.57 L391.05,232.05 L391.20,232.43 L391.35,232.74 L391.50,233.00 L391.65,233.25 L391.80,233.48 L391.95,233.70 L392.10,233.91 L392.25,234.11 L392.40,234.30 L392.55,234.48 L392.70,234.65 L392.85,234.81 L393.00,234.97 L393.15,235.11 L393.30,235.24 L393.45,235.36 L393.60,235.48 L393.75,235.59 L393.90,235.69 L394.05,235.78 L394.20,235.86 L394.35,235.94 L394.50,236.01 L394.65,236.08 L394.80,236.13 L394.95,236.18 L395.10,236.23 L395.25,236.27 L395.40,236.32 L395.55,236.36 L395.70,236.40 L395.85,236.43 L396.00,236.47 L396.15,236.51 L396.30,236.54 L396.45,236.57 L396.60,236.60 L396.75,236.63 L396.90,236.66 L397.05,236.69 L397.20,236.71 L397.35,236.74 L397.50,236.76 L397.65,236.78 L397.80,236.81 L397.95,236.83 L398.10,236.85 L398.25,236.87 L398.40,236.89 L398.55,236.91 L398.70,236.93 L398.85,236.95 L399.00,236.97 L399.15,236.99 L399.30,237.01 L399.45,237.03 L399.60,237.05 L399.75,237.06 L399.90,237.08 L400.05,237.10 L400.20,237.12 L400.35,237.14 L400.50,237.16 L400.65,237.18 L400.80,237.21 L400.95,237.23 L401.10,237.25 L401.25,237.28 L401.40,237.30 L401.55,237.33 L401.70,237.35 L401.85,237.37 L402.00,237.40 L402.15,237.42 L402.30,237.45 L402.45,237.47 L402.60,237.50 L402.75,237.52 L402.90,237.55 L403.05,237.57 L403.20,237.60 L403.35,237.62 L403.50,237.65 L403.65,237.67 L403.80,237.69 L403.95,237.72 L404.10,237.74 L404.25,237.77 L404.40,237.79 L404.55,237.81 L404.70,237.84 L404.85,237.86 L405.00,237.89 L405.15,237.91 L405.30,237.93 L405.45,237.96 L405.60,237.98 L405.75,238.01 L405.90,238.03 L406.05,238.05 L406.20,238.08 L406.35,238.10 L406.50,238.13 L406.65,238.15 L406.80,238.17 L406.95,238.20 L407.10,238.22 L407.25,238.24 L407.40,238.27 L407.55,238.29 L407.70,238.31 L407.85,238.34 L408.00,238.36 L408.15,238.39 L408.30,238.41 L408.45,238.43 L408.60,238.46 L408.75,238.48 L408.90,238.50 L409.05,238.53 L409.20,238.55 L409.35,238.57 L409.50,238.60 L409.65,238.62 L409.80,238.65 L409.95,238.67 L410.10,238.69 L410.25,238.72 L410.40,238.74 L410.55,238.76 L410.70,238.79 L410.85,238.81 L411.00,238.84 L411.15,238.86 L411.30,238.88 L411.45,238.91 L411.60,238.93 L411.75,238.96 L411.90,238.98 L412.05,239.00 L412.20,239.03 L412.35,239.05 L412.50,239.08 L412.65,239.10 L412.80,239.12 L412.95,239.15 L413.10,239.17 L413.25,239.20 L413.40,239.22 L413.55,239.25 L413.70,239.27 L413.85,239.29 L414.00,239.32 L414.15,239.34 L414.30,239.37 L414.45,239.39 L414.60,239.42 L414.75,239.44 L414.90,239.47 L415.05,239.49 L415.20,239.52 L415.35,239.54 L415.50,239.57 L415.65,239.59 L415.80,239.62 L415.95,239.64 L416.10,239.67 L416.25,239.69 L416.40,239.72 L416.55,239.74 L416.70,239.77 L416.85,239.80 L417.00,239.82 L417.15,239.85 L417.30,239.87 L417.45,239.90 L417.60,239.93 L417.75,239.95 L417.90,239.98 L418.05,240.00 L418.20,240.03 L418.35,240.06 L418.50,240.08 L418.65,240.11 L418.80,240.14 L418.95,240.16 L419.10,240.19 L419.25,240.22 L419.40,240.24 L419.55,240.27 L419.70,240.30 L419.85,240.32 L420.00,240.35 L420.15,240.38 L420.30,240.40 L420.45,240.43 L420.60,240.46 L420.75,240.49 L420.90,240.51 L421.05,240.54 L421.20,240.57 L421.35,240.59 L421.50,240.62 L421.65,240.65 L421.80,240.67 L421.95,240.70 L422.10,240.73 L422.25,240.76 L422.40,240.78 L422.55,240.81 L422.70,240.84 L422.85,240.86 L423.00,240.89 L423.15,240.92 L423.30,240.95 L423.45,240.97 L423.60,241.00 L423.75,241.03 L423.90,241.05 L424.05,241.08 L424.20,241.11 L424.35,241.13 L424.50,241.16 L424.65,241.19 L424.80,241.21 L424.95,241.24 L425.10,241.27 L425.25,241.29 L425.40,241.32 L425.55,241.35 L425.70,241.37 L425.85,241.40 L426.00,241.43 L426.15,241.45 L426.30,241.48 L426.45,241.51 L426.60,241.53 L426.75,241.56 L426.90,241.58 L427.05,241.61 L427.20,241.64 L427.35,241.66 L427.50,241.69 L427.65,241.71 L427.80,241.74 L427.95,241.76 L428.10,241.79 L428.25,241.81 L428.40,241.84 L428.55,241.86 L428.70,241.89 L428.85,241.91 L429.00,241.94 L429.15,241.96 L429.30,241.99 L429.45,242.01 L429.60,242.04 L429.75,242.06 L429.90,242.08 L430.05,242.11 L430.20,242.13 L430.35,242.16 L430.50,242.18 L430.65,242.20 L430.80,242.23 L430.95,242.25 L431.10,242.27 L431.25,242.30 L431.40,242.32 L431.55,242.35 L431.70,242.37 L431.85,242.39 L432.00,242.42 L432.15,242.44 L432.30,242.46 L432.45,242.49 L432.60,242.51 L432.75,242.53 L432.90,242.56 L433.05,242.58 L433.20,242.60 L433.35,242.63 L433.50,242.65 L433.65,242.67 L433.80,242.70 L433.95,242.72 L434.10,242.74 L434.25,242.77 L434.40,242.79 L434.55,242.81 L434.70,242.84 L434.85,242.86 L435.00,242.88 L435.15,242.91 L435.30,242.93 L435.45,242.95 L435.60,242.98 L435.75,243.00 L435.90,243.02 L436.05,243.05 L436.20,243.07 L436.35,243.09 L436.50,243.11 L436.65,243.14 L436.80,243.16 L436.95,243.18 L437.10,243.21 L437.25,243.23 L437.40,243.25 L437.55,243.27 L437.70,243.30 L437.85,243.32 L438.00,243.34 L438.15,243.36 L438.30,243.39 L438.45,243.41 L438.60,243.43 L438.75,243.45 L438.90,243.48 L439.05,243.50 L439.20,243.52 L439.35,243.54 L439.50,243.57 L439.65,243.59 L439.80,243.61 L439.95,243.63 L440.10,243.66 L440.25,243.68 L440.40,243.70 L440.55,243.72 L440.70,243.75 L440.85,243.77 L441.00,243.79 L441.15,243.81 L441.30,243.83 L441.45,243.86 L441.60,243.88 L441.75,243.90 L441.90,243.92 L442.05,243.94 L442.20,243.97 L442.35,243.99 L442.50,244.01 L442.65,244.03 L442.80,244.05 L442.95,244.08 L443.10,244.10 L443.25,244.12 L443.40,244.14 L443.55,244.16 L443.70,244.19 L443.85,244.21 L444.00,244.23 L444.15,244.25 L444.30,244.27 L444.45,244.29 L444.60,244.32 L444.75,244.34 L444.90,244.36 L445.05,244.38 L445.20,244.40 L445.35,244.42 L445.50,244.44 L445.65,244.47 L445.80,244.49 L445.95,244.51 L446.10,244.53 L446.25,244.55 L446.40,244.57 L446.55,244.59 L446.70,244.62 L446.85,244.64 L447.00,244.66 L447.15,244.68 L447.30,244.70 L447.45,244.72 L447.60,244.74 L447.75,244.76 L447.90,244.78 L448.05,244.81 L448.20,244.83 L448.35,244.85 L448.50,244.87 L448.65,244.89 L448.80,244.91 L448.95,244.93 L449.10,244.95 L449.25,244.97 L449.40,244.99 L449.55,245.01 L449.70,245.04 L449.85,245.06 L450.00,245.08 L450.15,245.10 L450.30,245.12 L450.45,245.14 L450.60,245.16 L450.75,245.18 L450.90,245.20 L451.05,245.22 L451.20,245.24 L451.35,245.26 L451.50,245.28 L451.65,245.30 L451.80,245.32 L451.95,245.34 L452.10,245.36 L452.25,245.38 L452.40,245.40 L452.55,245.42 L452.70,245.44 L452.85,245.47 L453.00,245.49 L453.15,245.51 L453.30,245.53 L453.45,245.55 L453.60,245.57 L453.75,245.59 L453.90,245.61 L454.05,245.63 L454.20,245.65 L454.35,245.67 L454.50,245.69 L454.65,245.71 L454.80,245.73 L454.95,245.75 L455.10,245.77 L455.25,245.79 L455.40,245.81 L455.55,245.83 L455.70,245.84 L455.85,245.86 L456.00,245.88 L456.15,245.90 L456.30,245.92 L456.45,245.94 L456.60,245.96 L456.75,245.98 L456.90,246.00 L457.05,246.02 L457.20,246.04 L457.35,246.06 L457.50,246.08 L457.65,246.10 L457.80,246.12 L457.95,246.14 L458.10,246.16 L458.25,246.18 L458.40,246.20 L458.55,246.22 L458.70,246.23 L458.85,246.25 L459.00,246.27 L459.15,246.29 L459.30,246.31 L459.45,246.33 L459.60,246.35 L459.75,246.37 L459.90,246.39 L460.05,246.41 L460.20,246.43 L460.35,246.45 L460.50,246.47 L460.65,246.49 L460.80,246.51 L460.95,246.53 L461.10,246.55 L461.25,246.57 L461.40,246.59 L461.55,246.61 L461.70,246.63 L461.85,246.66 L462.00,246.68 L462.15,246.70 L462.30,246.72 L462.45,246.75 L462.60,246.77 L462.75,246.79 L462.90,246.81 L463.05,246.84 L463.20,246.86 L463.35,246.88 L463.50,246.91 L463.65,246.93 L463.80,246.95 L463.95,246.98 L464.10,247.00 L464.25,247.02 L464.40,247.05 L464.55,247.07 L464.70,247.09 L464.85,247.12 L465.00,247.14 L465.15,247.16 L465.30,247.18 L465.45,247.21 L465.60,247.23 L465.75,247.25 L465.90,247.27 L466.05,247.30 L466.20,247.32 L466.35,247.34 L466.50,247.36 L466.65,247.38 L466.80,247.40 L466.95,247.42 L467.10,247.44 L467.25,247.46 L467.40,247.48 L467.55,247.50 L467.70,247.52 L467.85,247.54 L468.00,247.56 L468.15,247.58 L468.30,247.60 L468.45,247.62 L468.60,247.63 L468.75,247.65 L468.90,247.67 L469.05,247.68 L469.20,247.70 L469.35,247.71 L469.50,247.73 L469.65,247.74 L469.80,247.75 L469.95,247.77 L470.10,247.78 L470.25,247.79 L470.40,247.80 L470.55,247.81 L470.70,247.82 L470.85,247.83 L471.00,247.84 L471.15,247.85 L471.30,247.86 L471.45,247.87 L471.60,247.87 L471.75,247.88 L471.90,247.88 L472.05,247.89 L472.20,247.89 L472.35,247.89 L472.50,247.90 L472.65,247.90 L472.80,247.90 L472.95,247.90 L473.10,247.89 L473.25,247.88 L473.40,247.86 L473.55,247.84 L473.70,247.81 L473.85,247.77 L474.00,247.73 L474.15,247.68 L474.30,247.62 L474.45,247.56 L474.60,247.50 L474.75,247.43 L474.90,247.35 L475.05,247.27 L475.20,247.19 L475.35,247.10 L475.50,247.01 L475.65,246.91 L475.80,246.80 L475.95,246.70 L476.10,246.59 L476.25,246.47 L476.40,246.35 L476.55,246.23 L476.70,246.11 L476.85,245.98 L477.00,245.85 L477.15,245.71 L477.30,245.58 L477.45,245.43 L477.60,245.29 L477.75,245.15 L477.90,245.00 L478.05,244.84 L478.20,244.66 L478.35,244.47 L478.50,244.25 L478.65,244.01 L478.80,243.75 L478.95,243.47 L479.10,243.17 L479.25,242.85 L479.40,242.51 L479.55,242.14 L479.70,241.76 L479.85,241.34 L480.00,240.91 L480.15,240.45 L480.30,239.97 L480.45,239.47 L480.60,238.94 L480.75,238.39 L480.90,237.81 L481.05,237.21 L481.20,236.58 L481.35,235.92 L481.50,235.19 L481.65,234.20 L481.80,232.98 L481.95,231.58 L482.10,230.03 L482.25,228.38 L482.40,226.67 L482.55,224.93 L482.70,223.21 L482.85,221.56 L483.00,220.00 L483.15,218.34 L483.30,216.43 L483.45,214.42 L483.60,212.46 L483.75,210.68 L483.90,209.23 L484.05,208.26 L484.20,207.90 L484.35,208.33 L484.50,209.47 L484.65,211.16 L484.80,213.19 L484.95,215.37 L485.10,217.52 L485.25,219.44 L485.40,221.15 L485.55,223.09 L485.70,225.15 L485.85,227.17 L486.00,228.96 L486.15,230.37 L486.30,231.22 L486.45,231.36 L486.60,230.86 L486.75,229.84 L486.90,228.38 L487.05,226.57 L487.20,224.51 L487.35,222.29 L487.50,220.00 L487.65,217.21 L487.80,213.59 L487.95,209.34 L488.10,204.68 L488.25,199.83 L488.40,195.00 L488.55,189.80 L488.70,183.89 L488.85,177.57 L489.00,171.13 L489.15,164.86 L489.30,159.06 L489.45,154.00 L489.60,150.00 L489.75,146.61 L489.90,143.23 L490.05,139.93 L490.20,136.75 L490.35,133.75 L490.50,130.97 L490.65,128.48 L490.80,126.33 L490.95,124.56 L491.10,123.23 L491.25,122.39 L491.40,122.10 L491.55,122.77 L491.70,124.64 L491.85,127.52 L492.00,131.20 L492.15,135.49 L492.30,140.19 L492.45,145.09 L492.60,150.00 L492.75,155.75 L492.90,162.94 L493.05,171.01 L493.20,179.41 L493.35,187.59 L493.50,195.00 L493.65,202.19 L493.80,209.66 L493.95,216.79 L494.10,222.96 L494.25,227.54 L494.40,230.42 L494.55,232.95 L494.70,235.25 L494.85,237.30 L495.00,239.12 L495.15,240.69 L495.30,242.01 L495.45,243.08 L495.60,243.90 L495.75,244.47 L495.90,244.96 L496.05,245.43 L496.20,245.87 L496.35,246.28 L496.50,246.67 L496.65,247.04 L496.80,247.39 L496.95,247.71 L497.10,248.01 L497.25,248.30 L497.40,248.56 L497.55,248.81 L497.70,249.04 L497.85,249.26 L498.00,249.46 L498.15,249.64 L498.30,249.82 L498.45,249.98 L498.60,250.13 L498.75,250.26 L498.90,250.39 L499.05,250.52 L499.20,250.63 L499.35,250.74 L499.50,250.84 L499.65,250.94 L499.80,251.04 L499.95,251.14 L500.10,251.24 L500.25,251.34 L500.40,251.43 L500.55,251.53 L500.70,251.62 L500.85,251.71 L501.00,251.80 L501.15,251.88 L501.30,251.97 L501.45,252.05 L501.60,252.13 L501.75,252.21 L501.90,252.28 L502.05,252.36 L502.20,252.43 L502.35,252.50 L502.50,252.56 L502.65,252.63 L502.80,252.69 L502.95,252.75 L503.10,252.80 L503.25,252.86 L503.40,252.91 L503.55,252.95 L503.70,253.00 L503.85,253.04 L504.00,253.08 L504.15,253.12 L504.30,253.15 L504.45,253.18 L504.60,253.21 L504.75,253.23 L504.90,253.25 L505.05,253.27 L505.20,253.28 L505.35,253.29 L505.50,253.30 L505.65,253.30 L505.80,253.30 L505.95,253.29 L506.10,253.28 L506.25,253.27 L506.40,253.25 L506.55,253.23 L506.70,253.20 L506.85,253.18 L507.00,253.14 L507.15,253.11 L507.30,253.07 L507.45,253.02 L507.60,252.98 L507.75,252.93 L507.90,252.88 L508.05,252.82 L508.20,252.76 L508.35,252.70 L508.50,252.64 L508.65,252.58 L508.80,252.48 L508.95,252.35 L509.10,252.19 L509.25,252.00 L509.40,251.80 L509.55,251.57 L509.70,251.33 L509.85,251.08 L510.00,250.82 L510.15,250.56 L510.30,250.30 L510.45,250.04 L510.60,249.80 L510.75,249.54 L510.90,249.23 L511.05,248.89 L511.20,248.53 L511.35,248.16 L511.50,247.79 L511.65,247.43 L511.80,247.10 L511.95,246.79 L512.10,246.53 L512.25,246.32 L512.40,246.17 L512.55,246.10 L512.70,246.13 L512.85,246.30 L513.00,246.58 L513.15,246.96 L513.30,247.39 L513.45,247.86 L513.60,248.35 L513.75,248.82 L513.90,249.25 L514.05,249.62 L514.20,250.02 L514.35,250.46 L514.50,250.91 L514.65,251.34 L514.80,251.71 L514.95,251.99 L515.10,252.16 L515.25,252.18 L515.40,251.93 L515.55,251.41 L515.70,250.67 L515.85,249.76 L516.00,248.73 L516.15,247.62 L516.30,246.48 L516.45,245.36 L516.60,244.25 L516.75,242.97 L516.90,241.56 L517.05,240.04 L517.20,238.45 L517.35,236.82 L517.50,235.17 L517.65,233.56 L517.80,232.00 L517.95,230.37 L518.10,228.54 L518.25,226.58 L518.40,224.55 L518.55,222.50 L518.70,220.50 L518.85,218.59 L519.00,216.84 L519.15,215.31 L519.30,214.06 L519.45,213.13 L519.60,212.61 L519.75,212.54 L519.90,213.13 L520.05,214.33 L520.20,216.03 L520.35,218.12 L520.50,220.49 L520.65,223.03 L520.80,225.62 L520.95,228.17 L521.10,230.55 L521.25,232.71 L521.40,235.03 L521.55,237.50 L521.70,239.95 L521.85,242.19 L522.00,244.06 L522.15,245.40 L522.30,246.60 L522.45,247.73 L522.60,248.71 L522.75,249.46 L522.90,249.91 L523.05,249.99 L523.20,249.88 L523.35,249.65 L523.50,249.33 L523.65,248.93 L523.80,248.49 L523.95,248.01 L524.10,247.53 L524.25,247.06 L524.40,246.63 L524.55,246.26 L524.70,245.96 L524.85,245.77 L525.00,245.70 L525.15,245.76 L525.30,245.95 L525.45,246.23 L525.60,246.59 L525.75,247.01 L525.90,247.48 L526.05,247.98 L526.20,248.49 L526.35,248.98 L526.50,249.45 L526.65,249.88 L526.80,250.24 L526.95,250.52 L527.10,250.70 L527.25,250.82 L527.40,250.94 L527.55,251.06 L527.70,251.17 L527.85,251.28 L528.00,251.38 L528.15,251.47 L528.30,251.56 L528.45,251.65 L528.60,251.73 L528.75,251.80 L528.90,251.86 L529.05,251.92 L529.20,251.97 L529.35,252.01 L529.50,252.05 L529.65,252.07 L529.80,252.09 L529.95,252.10 L530.10,252.05 L530.25,251.79 L530.40,251.34 L530.55,250.71 L530.70,249.93 L530.85,249.02 L531.00,248.02 L531.15,246.93 L531.30,245.78 L531.45,244.58 L531.60,242.98 L531.75,240.95 L531.90,238.57 L532.05,235.90 L532.20,233.04 L532.35,230.05 L532.50,227.01 L532.65,223.96 L532.80,220.37 L532.95,216.27 L533.10,211.91 L533.25,207.52 L533.40,203.34 L533.55,199.60 L533.70,196.54 L533.85,194.34 L534.00,192.38 L534.15,190.49 L534.30,188.74 L534.45,187.19 L534.60,185.91 L534.75,184.96 L534.90,184.41 L535.05,184.33 L535.20,184.70 L535.35,185.49 L535.50,186.63 L535.65,188.06 L535.80,189.74 L535.95,191.61 L536.10,193.62 L536.25,195.79 L536.40,199.09 L536.55,203.49 L536.70,208.57 L536.85,213.90 L537.00,219.07 L537.15,223.67 L537.30,227.61 L537.45,231.64 L537.60,235.64 L537.75,239.40 L537.90,242.70 L538.05,245.34 L538.20,247.10 L538.35,248.30 L538.50,249.40 L538.65,250.39 L538.80,251.26 L538.95,252.03 L539.10,252.68 L539.25,253.22 L539.40,253.63 L539.55,253.93 L539.70,254.13 L539.85,254.31 L540.00,254.47 L540.15,254.63 L540.30,254.78 L540.45,254.92 L540.60,255.05 L540.75,255.18 L540.90,255.29 L541.05,255.39 L541.20,255.49 L541.35,255.58 L541.50,255.67 L541.65,255.74 L541.80,255.82 L541.95,255.88 L542.10,255.94 L542.25,255.99 L542.40,256.04 L542.55,256.09 L542.70,256.13 L542.85,256.17 L543.00,256.20 L543.15,256.23 L543.30,256.26 L543.45,256.29 L543.60,256.32 L543.75,256.35 L543.90,256.38 L544.05,256.41 L544.20,256.43 L544.35,256.46 L544.50,256.49 L544.65,256.51 L544.80,256.53 L544.95,256.56 L545.10,256.58 L545.25,256.60 L545.40,256.62 L545.55,256.64 L545.70,256.66 L545.85,256.67 L546.00,256.69 L546.15,256.71 L546.30,256.72 L546.45,256.73 L546.60,256.74 L546.75,256.76 L546.90,256.77 L547.05,256.77 L547.20,256.78 L547.35,256.79 L547.50,256.79 L547.65,256.80 L547.80,256.80 L547.95,256.80 L548.10,256.80 L548.25,256.78 L548.40,256.75 L548.55,256.71 L548.70,256.66 L548.85,256.60 L549.00,256.52 L549.15,256.44 L549.30,256.34 L549.45,256.23 L549.60,256.12 L549.75,255.99 L549.90,255.85 L550.05,255.70 L550.20,255.55 L550.35,255.38 L550.50,255.21 L550.65,255.03 L550.80,254.84 L550.95,254.64 L551.10,254.43 L551.25,254.22 L551.40,254.00 L551.55,253.71 L551.70,253.31 L551.85,252.79 L552.00,252.19 L552.15,251.50 L552.30,250.75 L552.45,249.95 L552.60,249.11 L552.75,248.24 L552.90,247.36 L553.05,246.48 L553.20,245.62 L553.35,244.79 L553.50,244.00 L553.65,243.17 L553.80,242.22 L553.95,241.19 L554.10,240.11 L554.25,239.02 L554.40,237.94 L554.55,236.91 L554.70,235.96 L554.85,235.13 L555.00,234.45 L555.15,233.95 L555.30,233.66 L555.45,233.61 L555.60,233.77 L555.75,234.11 L555.90,234.59 L556.05,235.19 L556.20,235.88 L556.35,236.64 L556.50,237.43 L556.65,238.24 L556.80,239.02 L556.95,239.77 L557.10,240.49 L557.25,241.31 L557.40,242.21 L557.55,243.17 L557.70,244.14 L557.85,245.10 L558.00,246.02 L558.15,246.86 L558.30,247.59 L558.45,248.18 L558.60,248.60 L558.75,248.92 L558.90,249.23 L559.05,249.52 L559.20,249.81 L559.35,250.08 L559.50,250.34 L559.65,250.59 L559.80,250.82 L559.95,251.03 L560.10,251.23 L560.25,251.41 L560.40,251.57 L560.55,251.71 L560.70,251.84 L560.85,251.93 L561.00,252.01 L561.15,252.06 L561.30,252.09 L561.45,252.10 L561.60,252.05 L561.75,251.94 L561.90,251.78 L562.05,251.57 L562.20,251.32 L562.35,251.03 L562.50,250.71 L562.65,250.35 L562.80,249.98 L562.95,249.58 L563.10,249.16 L563.25,248.73 L563.40,248.29 L563.55,247.84 L563.70,247.26 L563.85,246.53 L564.00,245.70 L564.15,244.80 L564.30,243.86 L564.45,242.91 L564.60,242.00 L564.75,241.16 L564.90,240.42 L565.05,239.80 L565.20,239.18 L565.35,238.56 L565.50,237.97 L565.65,237.47 L565.80,237.10 L565.95,236.91 L566.10,236.95 L566.25,237.21 L566.40,237.64 L566.55,238.18 L566.70,238.79 L566.85,239.41 L567.00,240.00 L567.15,240.61 L567.30,241.31 L567.45,242.08 L567.60,242.89 L567.75,243.71 L567.90,244.51 L568.05,245.27 L568.20,245.96 L568.35,246.54 L568.50,247.00 L568.65,247.38 L568.80,247.76 L568.95,248.13 L569.10,248.48 L569.25,248.83 L569.40,249.15 L569.55,249.46 L569.70,249.73 L569.85,249.98 L570.00,250.20 L570.15,250.38 L570.30,250.53 L570.45,250.63 L570.60,250.69 L570.75,250.70 L570.90,250.70 L571.05,250.70 L571.20,250.70 L571.35,250.70 L571.50,250.70 L571.65,250.70 L571.80,250.70 L571.95,250.70 L572.10,250.70 L572.25,250.70 L572.40,250.70 L572.55,250.70 L572.70,250.70 L572.85,250.70 L573.00,250.70 L573.15,250.70 L573.30,250.70 L573.45,250.70 L573.60,250.70 L573.75,250.70 L573.90,250.70 L574.05,250.70 L574.20,250.70 L574.35,250.70 L574.50,250.70 L574.65,250.70 L574.80,250.70 L574.95,250.70 L575.10,250.70 L575.25,250.70 L575.40,250.70 L575.55,250.70 L575.70,250.70 L575.85,250.70 L576.00,250.70 L576.15,250.70 L576.30,250.70 L576.45,250.70 L576.60,250.70 L576.75,250.70 L576.90,250.70 L577.05,250.70 L577.20,250.70 L577.35,250.70 L577.50,250.70 L577.65,250.70 L577.80,250.70 L577.95,250.70 L578.10,250.70 L578.25,250.70 L578.40,250.70 L578.55,250.70 L578.70,250.70 L578.85,250.70 L579.00,250.70 L579.15,250.70 L579.30,250.70 L579.45,250.70 L579.60,250.70 L579.75,250.70 L579.90,250.70 L580.05,250.70 L580.20,250.70 L580.35,250.70 L580.50,250.70 L580.65,250.70 L580.80,250.70 L580.95,250.70 L581.10,250.70 L581.25,250.70 L581.40,250.70 L581.55,250.70 L581.70,250.69 L581.85,250.67 L582.00,250.65 L582.15,250.62 L582.30,250.59 L582.45,250.55 L582.60,250.51 L582.75,250.47 L582.90,250.42 L583.05,250.37 L583.20,250.31 L583.35,250.26 L583.50,250.20 L583.65,250.14 L583.80,250.08 L583.95,250.02 L584.10,249.96 L584.25,249.90 L584.40,249.83 L584.55,249.77 L584.70,249.71 L584.85,249.66 L585.00,249.60 L585.15,249.54 L585.30,249.47 L585.45,249.40 L585.60,249.32 L585.75,249.23 L585.90,249.15 L586.05,249.06 L586.20,248.97 L586.35,248.88 L586.50,248.79 L586.65,248.70 L586.80,248.62 L586.95,248.55 L587.10,248.48 L587.25,248.43 L587.40,248.38 L587.55,248.34 L587.70,248.31 L587.85,248.30 L588.00,248.30 L588.15,248.32 L588.30,248.34 L588.45,248.38 L588.60,248.43 L588.75,248.48 L588.90,248.54 L589.05,248.61 L589.20,248.68 L589.35,248.75 L589.50,248.83 L589.65,248.90 L589.80,248.98 L589.95,249.05 L590.10,249.13 L590.25,249.20 L590.40,249.26 L590.55,249.32 L590.70,249.38 L590.85,249.44 L591.00,249.50 L591.15,249.56 L591.30,249.62 L591.45,249.69 L591.60,249.75 L591.75,249.81 L591.90,249.87 L592.05,249.93 L592.20,249.98 L592.35,250.04 L592.50,250.09 L592.65,250.13 L592.80,250.17 L592.95,250.21 L593.10,250.25 L593.25,250.28 L593.40,250.32 L593.55,250.35 L593.70,250.39 L593.85,250.42 L594.00,250.45 L594.15,250.48 L594.30,250.51 L594.45,250.54 L594.60,250.57 L594.75,250.60 L594.90,250.63 L595.05,250.66 L595.20,250.69 L595.35,250.71 L595.50,250.74 L595.65,250.77 L595.80,250.79 L595.95,250.82 L596.10,250.84 L596.25,250.87 L596.40,250.89 L596.55,250.92 L596.70,250.94 L596.85,250.96 L597.00,250.99 L597.15,251.01 L597.30,251.03 L597.45,251.05 L597.60,251.07 L597.75,251.10 L597.90,251.12 L598.05,251.14 L598.20,251.16 L598.35,251.18 L598.50,251.20 L598.65,251.22 L598.80,251.24 L598.95,251.26 L599.10,251.28 L599.25,251.30 L599.40,251.32 L599.55,251.34 L599.70,251.36 L599.85,251.38 L600.00,251.40 L600.15,251.42 L600.30,251.44 L600.45,251.46 L600.60,251.47 L600.75,251.49 L600.90,251.51 L601.05,251.53 L601.20,251.55 L601.35,251.57 L601.50,251.59 L601.65,251.61 L601.80,251.63 L601.95,251.65 L602.10,251.67 L602.25,251.69 L602.40,251.71 L602.55,251.73 L602.70,251.76 L602.85,251.78 L603.00,251.80 L603.15,251.82 L603.30,251.84 L603.45,251.87 L603.60,251.89 L603.75,251.91 L603.90,251.94 L604.05,251.96 L604.20,251.98 L604.35,252.01 L604.50,252.03 L604.65,252.06 L604.80,252.08 L604.95,252.11 L605.10,252.13 L605.25,252.16 L605.40,252.18 L605.55,252.21 L605.70,252.23 L605.85,252.26 L606.00,252.28 L606.15,252.31 L606.30,252.33 L606.45,252.36 L606.60,252.39 L606.75,252.41 L606.90,252.44 L607.05,252.46 L607.20,252.49 L607.35,252.51 L607.50,252.54 L607.65,252.56 L607.80,252.59 L607.95,252.62 L608.10,252.64 L608.25,252.67 L608.40,252.69 L608.55,252.72 L608.70,252.75 L608.85,252.77 L609.00,252.80 L609.15,252.82 L609.30,252.85 L609.45,252.88 L609.60,252.90 L609.75,252.93 L609.90,252.95 L610.05,252.98 L610.20,253.01 L610.35,253.03 L610.50,253.06 L610.65,253.09 L610.80,253.11 L610.95,253.14 L611.10,253.16 L611.25,253.19 L611.40,253.22 L611.55,253.24 L611.70,253.27 L611.85,253.29 L612.00,253.32 L612.15,253.35 L612.30,253.37 L612.45,253.40 L612.60,253.43 L612.75,253.45 L612.90,253.48 L613.05,253.50 L613.20,253.53 L613.35,253.56 L613.50,253.58 L613.65,253.61 L613.80,253.63 L613.95,253.66 L614.10,253.69 L614.25,253.71 L614.40,253.74 L614.55,253.76 L614.70,253.79 L614.85,253.82 L615.00,253.84 L615.15,253.87 L615.30,253.89 L615.45,253.92 L615.60,253.95 L615.75,253.97 L615.90,254.00 L616.05,254.02 L616.20,254.05 L616.35,254.07 L616.50,254.10 L616.65,254.12 L616.80,254.15 L616.95,254.17 L617.10,254.20 L617.25,254.23 L617.40,254.25 L617.55,254.28 L617.70,254.30 L617.85,254.33 L618.00,254.35 L618.15,254.38 L618.30,254.40 L618.45,254.43 L618.60,254.45 L618.75,254.48 L618.90,254.50 L619.05,254.53 L619.20,254.55 L619.35,254.58 L619.50,254.60 L619.65,254.63 L619.80,254.65 L619.95,254.68 L620.10,254.70 L620.25,254.73 L620.40,254.75 L620.55,254.78 L620.70,254.80 L620.85,254.83 L621.00,254.86 L621.15,254.88 L621.30,254.91 L621.45,254.93 L621.60,254.96 L621.75,254.98 L621.90,255.01 L622.05,255.03 L622.20,255.06 L622.35,255.08 L622.50,255.11 L622.65,255.13 L622.80,255.16 L622.95,255.18 L623.10,255.21 L623.25,255.23 L623.40,255.26 L623.55,255.28 L623.70,255.31 L623.85,255.33 L624.00,255.36 L624.15,255.38 L624.30,255.41 L624.45,255.43 L624.60,255.46 L624.75,255.48 L624.90,255.51 L625.05,255.53 L625.20,255.56 L625.35,255.58 L625.50,255.61 L625.65,255.63 L625.80,255.66 L625.95,255.68 L626.10,255.71 L626.25,255.73 L626.40,255.76 L626.55,255.78 L626.70,255.81 L626.85,255.83 L627.00,255.86 L627.15,255.88 L627.30,255.91 L627.45,255.93 L627.60,255.96 L627.75,255.98 L627.90,256.01 L628.05,256.03 L628.20,256.06 L628.35,256.08 L628.50,256.11 L628.65,256.14 L628.80,256.16 L628.95,256.19 L629.10,256.21 L629.25,256.24 L629.40,256.26 L629.55,256.29 L629.70,256.31 L629.85,256.34 L630.00,256.36 L630.15,256.39 L630.30,256.41 L630.45,256.44 L630.60,256.46 L630.75,256.49 L630.90,256.51 L631.05,256.54 L631.20,256.56 L631.35,256.58 L631.50,256.61 L631.65,256.63 L631.80,256.66 L631.95,256.68 L632.10,256.71 L632.25,256.73 L632.40,256.76 L632.55,256.78 L632.70,256.81 L632.85,256.83 L633.00,256.86 L633.15,256.88 L633.30,256.91 L633.45,256.93 L633.60,256.96 L633.75,256.98 L633.90,257.01 L634.05,257.03 L634.20,257.06 L634.35,257.08 L634.50,257.11 L634.65,257.13 L634.80,257.16 L634.95,257.18 L635.10,257.21 L635.25,257.23 L635.40,257.26 L635.55,257.28 L635.70,257.31 L635.85,257.33 L636.00,257.36 L636.15,257.38 L636.30,257.41 L636.45,257.43 L636.60,257.46 L636.75,257.48 L636.90,257.51 L637.05,257.53 L637.20,257.56 L637.35,257.58 L637.50,257.61 L637.65,257.63 L637.80,257.66 L637.95,257.68 L638.10,257.71 L638.25,257.73 L638.40,257.75 L638.55,257.78 L638.70,257.80 L638.85,257.83 L639.00,257.85 L639.15,257.88 L639.30,257.90 L639.45,257.93 L639.60,257.95 L639.75,257.98 L639.90,258.00 L640.05,258.03 L640.20,258.05 L640.35,258.08 L640.50,258.10 L640.65,258.13 L640.80,258.15 L640.95,258.18 L641.10,258.20 L641.25,258.23 L641.40,258.25 L641.55,258.27 L641.70,258.30 L641.85,258.32 L642.00,258.35 L642.15,258.37 L642.30,258.40 L642.45,258.42 L642.60,258.45 L642.75,258.47 L642.90,258.50 L643.05,258.52 L643.20,258.55 L643.35,258.57 L643.50,258.60 L643.65,258.62 L643.80,258.65 L643.95,258.67 L644.10,258.69 L644.25,258.72 L644.40,258.74 L644.55,258.77 L644.70,258.79 L644.85,258.82 L645.00,258.84 L645.15,258.87 L645.30,258.89 L645.45,258.92 L645.60,258.94 L645.75,258.97 L645.90,258.99 L646.05,259.01 L646.20,259.04 L646.35,259.06 L646.50,259.09 L646.65,259.11 L646.80,259.14 L646.95,259.16 L647.10,259.19 L647.25,259.21 L647.40,259.24 L647.55,259.26 L647.70,259.29 L647.85,259.31 L648.00,259.33 L648.15,259.36 L648.30,259.38 L648.45,259.41 L648.60,259.43 L648.75,259.46 L648.90,259.48 L649.05,259.51 L649.20,259.53 L649.35,259.55 L649.50,259.58 L649.65,259.60 L649.80,259.63 L649.95,259.65 L650.10,259.68 L650.25,259.70 L650.40,259.73 L650.55,259.75 L650.70,259.78 L650.85,259.80 L651.00,259.82 L651.15,259.85 L651.30,259.87 L651.45,259.90 L651.60,259.92 L651.75,259.95 L651.90,259.97 L652.05,260.00 L652.20,260.02 L652.35,260.04 L652.50,260.07 L652.65,260.09 L652.80,260.12 L652.95,260.14 L653.10,260.17 L653.25,260.19 L653.40,260.22 L653.55,260.24 L653.70,260.26 L653.85,260.29 L654.00,260.31 L654.15,260.34 L654.30,260.36 L654.45,260.39 L654.60,260.41 L654.75,260.43 L654.90,260.46 L655.05,260.48 L655.20,260.51 L655.35,260.53 L655.50,260.56 L655.65,260.58 L655.80,260.60 L655.95,260.63 L656.10,260.65 L656.25,260.68 L656.40,260.70 L656.55,260.73 L656.70,260.75 L656.85,260.77 L657.00,260.80 L657.15,260.82 L657.30,260.85 L657.45,260.87 L657.60,260.90 L657.75,260.92 L657.90,260.94 L658.05,260.97 L658.20,260.99 L658.35,261.02 L658.50,261.04 L658.65,261.07 L658.80,261.09 L658.95,261.11 L659.10,261.14 L659.25,261.16 L659.40,261.19 L659.55,261.21 L659.70,261.23 L659.85,261.26 L660.00,261.28 L660.15,261.31 L660.30,261.33 L660.45,261.36 L660.60,261.38 L660.75,261.40 L660.90,261.43 L661.05,261.45 L661.20,261.48 L661.35,261.50 L661.50,261.52 L661.65,261.55 L661.80,261.57 L661.95,261.60 L662.10,261.62 L662.25,261.65 L662.40,261.67 L662.55,261.69 L662.70,261.72 L662.85,261.74 L663.00,261.77 L663.15,261.79 L663.30,261.81 L663.45,261.84 L663.60,261.86 L663.75,261.89 L663.90,261.91 L664.05,261.93 L664.20,261.96 L664.35,261.98 L664.50,262.01 L664.65,262.03 L664.80,262.05 L664.95,262.08 L665.10,262.10 L665.25,262.13 L665.40,262.15 L665.55,262.17 L665.70,262.20 L665.85,262.22 L666.00,262.25 L666.15,262.27 L666.30,262.29 L666.45,262.32 L666.60,262.34 L666.75,262.37 L666.90,262.39 L667.05,262.41 L667.20,262.44 L667.35,262.46 L667.50,262.49 L667.65,262.51 L667.80,262.53 L667.95,262.56 L668.10,262.58 L668.25,262.60 L668.40,262.63 L668.55,262.65 L668.70,262.68 L668.85,262.70 L669.00,262.72 L669.15,262.75 L669.30,262.77 L669.45,262.80 L669.60,262.82 L669.75,262.84 L669.90,262.87 L670.05,262.89 L670.20,262.91 L670.35,262.94 L670.50,262.96 L670.65,262.99 L670.80,263.01 L670.95,263.03 L671.10,263.06 L671.25,263.08 L671.40,263.10 L671.55,263.13 L671.70,263.15 L671.85,263.18 L672.00,263.20 L672.15,263.22 L672.30,263.25 L672.45,263.27 L672.60,263.29 L672.75,263.32 L672.90,263.34 L673.05,263.37 L673.20,263.39 L673.35,263.41 L673.50,263.44 L673.65,263.46 L673.80,263.48 L673.95,263.51 L674.10,263.53 L674.25,263.55 L674.40,263.58 L674.55,263.60 L674.70,263.63 L674.85,263.65 L675.00,263.67 L675.15,263.70 L675.30,263.72 L675.45,263.74 L675.60,263.77 L675.75,263.79 L675.90,263.81 L676.05,263.84 L676.20,263.86 L676.35,263.88 L676.50,263.91 L676.65,263.93 L676.80,263.96 L676.95,263.98 L677.10,264.00 L677.25,264.03 L677.40,264.05 L677.55,264.07 L677.70,264.10 L677.85,264.12 L678.00,264.14 L678.15,264.17 L678.30,264.19 L678.45,264.21 L678.60,264.24 L678.75,264.26 L678.90,264.28 L679.05,264.31 L679.20,264.33 L679.35,264.35 L679.50,264.38 L679.65,264.40 L679.80,264.42 L679.95,264.45 L680.10,264.47 L680.25,264.49 L680.40,264.52 L680.55,264.54 L680.70,264.57 L680.85,264.59 L681.00,264.61 L681.15,264.64 L681.30,264.66 L681.45,264.68 L681.60,264.71 L681.75,264.73 L681.90,264.75 L682.05,264.78 L682.20,264.80 L682.35,264.82 L682.50,264.84 L682.65,264.87 L682.80,264.89 L682.95,264.91 L683.10,264.94 L683.25,264.96 L683.40,264.98 L683.50,265.00" fill="none" stroke="#3a63ec" stroke-width="1.05" stroke-linejoin="round"/>
<path d="M109.50,170.00 L109.60,164.34 L109.70,158.21 L109.80,151.66 L109.90,144.75 L110.00,137.51 L110.10,130.00 L110.20,121.19 L110.30,111.22 L110.40,101.89 L110.50,95.00 L110.60,89.90 L110.70,85.73 L110.80,84.00 L110.90,84.69 L111.00,86.51 L111.10,89.08 L111.20,92.00 L111.30,97.47 L111.40,104.51 L111.50,108.00 L111.60,103.57 L111.70,94.04 L111.80,85.00 L111.90,77.77 L112.00,70.26 L112.10,63.00 L112.20,56.52 L112.30,51.35 L112.40,48.00 L112.50,45.81 L112.60,43.75 L112.70,41.83 L112.80,40.07 L112.90,38.48 L113.00,37.07 L113.10,35.84 L113.20,34.81 L113.30,33.99 L113.40,33.39 L113.50,33.02 L113.60,32.90 L113.70,33.29 L113.80,34.43 L113.90,36.29 L114.00,38.82 L114.10,42.00 L114.20,45.78 L114.30,50.13 L114.40,55.00 L114.50,64.66 L114.60,81.05 L114.70,100.67 L114.80,120.00 L114.90,138.76 L115.00,158.85 L115.10,180.00 L115.10,180.00" fill="none" stroke="#3a63ec" stroke-width="0.7" stroke-dasharray="2.2 1.8" opacity=".5"/>
<path d="M123.10,175.00 L123.20,173.70 L123.30,172.06 L123.40,170.09 L123.50,167.84 L123.60,165.33 L123.70,162.59 L123.80,159.66 L123.90,156.56 L124.00,153.33 L124.10,150.00 L124.20,146.30 L124.30,142.04 L124.40,137.29 L124.50,132.18 L124.60,126.79 L124.70,121.23 L124.80,115.60 L124.90,110.00 L125.00,104.15 L125.10,97.84 L125.20,91.23 L125.30,84.51 L125.40,77.85 L125.50,71.43 L125.60,65.42 L125.70,60.00 L125.80,54.62 L125.90,48.89 L126.00,43.23 L126.10,38.09 L126.20,33.88 L126.30,31.04 L126.40,30.00 L126.50,30.37 L126.60,31.30 L126.70,32.58 L126.80,33.94 L126.90,35.16 L127.00,36.00 L127.10,36.57 L127.20,37.11 L127.30,37.57 L127.40,37.88 L127.50,38.00 L127.60,37.44 L127.70,35.97 L127.80,33.89 L127.90,31.50 L128.00,29.11 L128.10,27.03 L128.20,25.56 L128.30,25.00 L128.40,25.77 L128.50,27.90 L128.60,31.14 L128.70,35.22 L128.80,39.90 L128.90,44.91 L129.00,50.00 L129.10,55.71 L129.20,62.64 L129.30,70.63 L129.40,79.52 L129.50,89.16 L129.60,99.37 L129.70,110.00 L129.80,123.14 L129.90,138.84 L130.00,153.87 L130.10,165.00 L130.20,172.83 L130.30,179.68 L130.40,184.94 L130.50,188.00 L130.50,188.00" fill="none" stroke="#3a63ec" stroke-width="0.7" stroke-dasharray="2.2 1.8" opacity=".5"/>
<path d="M190.20,210.00 L190.30,207.16 L190.40,204.25 L190.50,201.26 L190.60,198.18 L190.70,195.00 L190.80,191.56 L190.90,187.78 L191.00,183.79 L191.10,179.73 L191.20,175.73 L191.30,171.92 L191.40,168.44 L191.50,165.43 L191.60,163.00 L191.70,160.91 L191.80,158.82 L191.90,156.79 L192.00,154.84 L192.10,153.03 L192.20,151.38 L192.30,149.95 L192.40,148.76 L192.50,147.87 L192.60,147.30 L192.70,147.10 L192.80,147.29 L192.90,147.84 L193.00,148.71 L193.10,149.86 L193.20,151.27 L193.30,152.89 L193.40,154.69 L193.50,156.64 L193.60,158.70 L193.70,160.83 L193.80,163.00 L193.90,165.66 L194.00,169.13 L194.10,173.20 L194.20,177.66 L194.30,182.29 L194.40,186.86 L194.50,191.17 L194.60,195.00 L194.70,198.46 L194.80,201.80 L194.90,205.03 L195.00,208.14 L195.10,211.13 L195.20,214.00 L195.20,214.00" fill="none" stroke="#3a63ec" stroke-width="0.7" stroke-dasharray="2.2 1.8" opacity=".5"/>
<path d="M212.60,216.00 L212.70,214.52 L212.80,212.71 L212.90,210.61 L213.00,208.26 L213.10,205.68 L213.20,202.92 L213.30,200.00 L213.40,196.55 L213.50,192.32 L213.60,187.57 L213.70,182.56 L213.80,177.54 L213.90,172.77 L214.00,168.51 L214.10,165.00 L214.20,161.90 L214.30,158.73 L214.40,155.58 L214.50,152.56 L214.60,149.75 L214.70,147.24 L214.80,145.13 L214.90,143.51 L215.00,142.47 L215.10,142.10 L215.20,142.47 L215.30,143.53 L215.40,145.17 L215.50,147.30 L215.60,149.83 L215.70,152.65 L215.80,155.68 L215.90,158.81 L216.00,161.95 L216.10,165.00 L216.20,168.50 L216.30,172.84 L216.40,177.68 L216.50,182.70 L216.60,187.57 L216.70,191.96 L216.80,195.54 L216.90,198.00 L217.00,199.75 L217.10,201.43 L217.20,203.02 L217.30,204.49 L217.40,205.83 L217.50,207.02 L217.60,208.04 L217.70,208.87 L217.80,209.48 L217.90,209.87 L218.00,210.00 L218.00,210.00" fill="none" stroke="#3a63ec" stroke-width="0.7" stroke-dasharray="2.2 1.8" opacity=".5"/>
<path d="M357.90,200.00 L358.00,190.35 L358.10,181.26 L358.20,173.00 L358.30,165.82 L358.40,160.00 L358.50,154.89 L358.60,149.86 L358.70,145.17 L358.80,141.06 L358.90,137.81 L359.00,135.67 L359.10,134.90 L359.20,135.25 L359.30,136.17 L359.40,137.48 L359.50,139.01 L359.60,140.58 L359.70,142.00 L359.80,143.50 L359.90,145.30 L360.00,147.20 L360.10,149.01 L360.20,150.54 L360.30,151.60 L360.40,152.00 L360.50,150.82 L360.60,147.57 L360.70,142.72 L360.80,136.71 L360.90,130.00 L361.00,119.33 L361.10,104.37 L361.20,90.00 L361.30,76.51 L361.40,63.54 L361.50,55.00 L361.60,50.47 L361.70,46.85 L361.80,43.98 L361.90,41.75 L362.00,40.00 L362.10,38.48 L362.20,37.03 L362.30,35.69 L362.40,34.50 L362.50,33.51 L362.60,32.75 L362.70,32.27 L362.80,32.10 L362.90,32.33 L363.00,32.98 L363.10,33.98 L363.20,35.26 L363.30,36.77 L363.40,38.44 L363.50,40.21 L363.60,42.00 L363.70,44.01 L363.80,46.46 L363.90,49.31 L364.00,52.54 L364.10,56.11 L364.20,60.00 L364.30,64.99 L364.40,71.31 L364.50,78.14 L364.60,84.65 L364.70,90.00 L364.80,94.70 L364.90,99.52 L365.00,104.02 L365.10,107.78 L365.20,110.35 L365.30,111.30 L365.40,109.43 L365.50,104.53 L365.60,97.70 L365.70,90.00 L365.80,77.94 L365.90,62.17 L366.00,50.00 L366.10,42.50 L366.20,36.10 L366.30,31.16 L366.40,28.00 L366.50,25.94 L366.60,24.08 L366.70,22.47 L366.80,21.14 L366.90,20.15 L367.00,19.52 L367.10,19.30 L367.20,19.62 L367.30,20.50 L367.40,21.85 L367.50,23.57 L367.60,25.57 L367.70,27.74 L367.80,30.00 L367.90,32.55 L368.00,35.71 L368.10,39.49 L368.20,43.95 L368.30,49.11 L368.40,55.00 L368.50,63.34 L368.60,74.72 L368.70,87.48 L368.80,100.00 L368.90,113.19 L369.00,127.50 L369.10,140.56 L369.20,150.00 L369.30,156.46 L369.40,162.20 L369.50,167.28 L369.60,171.76 L369.70,175.71 L369.80,179.19 L369.90,182.27 L370.00,185.00 L370.10,187.54 L370.20,189.94 L370.30,192.15 L370.40,194.11 L370.50,195.78 L370.60,197.10 L370.70,198.00" fill="none" stroke="#3a63ec" stroke-width="0.7" stroke-dasharray="2.2 1.8" opacity=".5"/>
<path d="M381.00,190.00 L381.10,187.37 L381.20,184.64 L381.30,181.83 L381.40,178.93 L381.50,175.95 L381.60,172.90 L381.70,169.77 L381.80,166.58 L381.90,163.32 L382.00,160.00 L382.10,156.39 L382.20,152.36 L382.30,148.11 L382.40,143.83 L382.50,139.68 L382.60,135.88 L382.70,132.59 L382.80,130.00 L382.90,127.82 L383.00,125.66 L383.10,123.58 L383.20,121.65 L383.30,119.93 L383.40,118.48 L383.50,117.37 L383.60,116.65 L383.70,116.40 L383.80,116.71 L383.90,117.59 L384.00,118.97 L384.10,120.77 L384.20,122.92 L384.30,125.36 L384.40,128.00 L384.50,131.93 L384.60,137.80 L384.70,144.90 L384.80,152.54 L384.90,160.00 L385.00,168.07 L385.10,177.04 L385.20,185.49 L385.30,192.00 L385.40,197.21 L385.50,201.57 L385.60,203.40 L385.70,201.57 L385.80,197.21 L385.90,192.00 L386.00,185.82 L386.10,177.91 L386.20,169.05 L386.30,160.00 L386.40,149.67 L386.50,138.00 L386.60,127.34 L386.70,120.00 L386.80,115.23 L386.90,110.76 L387.00,106.70 L387.10,103.16 L387.20,100.22 L387.30,98.00 L387.40,96.59 L387.50,96.10 L387.60,96.34 L387.70,97.05 L387.80,98.18 L387.90,99.70 L388.00,101.58 L388.10,103.77 L388.20,106.25 L388.30,108.97 L388.40,111.90 L388.50,115.00 L388.60,119.16 L388.70,125.09 L388.80,132.45 L388.90,140.94 L389.00,150.23 L389.10,160.00 L389.20,171.38 L389.30,185.04 L389.40,200.00" fill="none" stroke="#3a63ec" stroke-width="0.7" stroke-dasharray="2.2 1.8" opacity=".5"/>
<path d="M489.00,195.00 L489.10,190.40 L489.20,185.86 L489.30,181.42 L489.40,177.11 L489.50,172.94 L489.60,168.94 L489.70,165.14 L489.80,161.56 L489.90,158.23 L490.00,155.18 L490.10,152.43 L490.20,150.00 L490.30,147.74 L490.40,145.48 L490.50,143.23 L490.60,141.02 L490.70,138.85 L490.80,136.75 L490.90,134.73 L491.00,132.80 L491.10,130.97 L491.20,129.28 L491.30,127.72 L491.40,126.33 L491.50,125.10 L491.60,124.06 L491.70,123.23 L491.80,122.61 L491.90,122.23 L492.00,122.10 L492.10,122.40 L492.20,123.27 L492.30,124.64 L492.40,126.46 L492.50,128.67 L492.60,131.20 L492.70,134.01 L492.80,137.02 L492.90,140.19 L493.00,143.45 L493.10,146.74 L493.20,150.00 L493.30,153.65 L493.40,158.01 L493.50,162.94 L493.60,168.25 L493.70,173.80 L493.80,179.41 L493.90,184.92 L494.00,190.17 L494.10,195.00 L494.20,199.51 L494.30,203.94 L494.40,208.28 L494.50,212.53 L494.60,216.69 L494.70,220.76 L494.80,224.73 L494.90,228.60" fill="none" stroke="#3a63ec" stroke-width="0.7" stroke-dasharray="2.2 1.8" opacity=".5"/>
<path d="M531.90,245.00 L532.00,243.71 L532.10,242.34 L532.20,240.89 L532.30,239.37 L532.40,237.78 L532.50,236.12 L532.60,234.41 L532.70,232.63 L532.80,230.80 L532.90,228.91 L533.00,226.98 L533.10,225.00 L533.20,222.83 L533.30,220.37 L533.40,217.68 L533.50,214.84 L533.60,211.91 L533.70,208.97 L533.80,206.09 L533.90,203.34 L534.00,200.78 L534.10,198.49 L534.20,196.54 L534.30,195.00 L534.40,193.68 L534.50,192.38 L534.60,191.11 L534.70,189.89 L534.80,188.74 L534.90,187.68 L535.00,186.73 L535.10,185.91 L535.20,185.23 L535.30,184.73 L535.40,184.41 L535.50,184.30 L535.60,184.40 L535.70,184.70 L535.80,185.19 L535.90,185.83 L536.00,186.63 L536.10,187.55 L536.20,188.60 L536.30,189.74 L536.40,190.97 L536.50,192.27 L536.60,193.62 L536.70,195.00 L536.80,196.74 L536.90,199.09 L537.00,201.93 L537.10,205.13 L537.20,208.57 L537.30,212.12 L537.40,215.66 L537.50,219.07 L537.60,222.22 L537.70,225.00 L537.80,227.52 L537.90,229.98 L538.00,232.37 L538.10,234.70 L538.20,236.96 L538.30,239.15 L538.40,241.26 L538.50,243.29 L538.60,245.24 L538.70,247.10" fill="none" stroke="#3a63ec" stroke-width="0.7" stroke-dasharray="2.2 1.8" opacity=".5"/>
<path d="M85.70,183.40 L87.50,188.00 L89.30,194.90 L90.00,216.00 L90.40,230.00 L91.40,248.00 L92.50,258.00" fill="none" stroke="#111" stroke-width="1.05" stroke-dasharray="1.1 2.3" opacity=".75"/>
<path d="M92.70,258.00 L93.50,246.00 L94.00,230.00 L94.40,216.00 L96.00,200.00 L97.90,183.40 L101.40,174.90" fill="none" stroke="#111" stroke-width="1.05" stroke-dasharray="1.1 2.3" opacity=".75"/>
<path d="M129.80,170.00 L130.05,176.71 L130.30,182.62 L130.55,187.56 L130.80,191.41 L131.05,194.39 L131.30,196.97 L131.55,199.60 L131.80,202.28 L132.05,204.79 L132.30,206.91 L132.55,208.53 L132.80,209.99 L133.05,211.34 L133.30,212.60 L133.55,213.76 L133.80,214.85 L134.05,215.86 L134.30,216.80 L134.55,217.69 L134.80,218.53 L135.05,219.33 L135.30,220.10 L135.55,220.84 L135.80,221.56 L136.05,222.26 L136.30,222.94 L136.55,223.60 L136.80,224.23 L137.05,224.84 L137.30,225.43 L137.55,226.00 L137.80,226.55 L138.05,227.08 L138.30,227.59 L138.55,228.08 L138.80,228.56 L139.05,229.01 L139.30,229.44 L139.55,229.85 L139.80,230.25 L140.05,230.62 L140.30,230.99 L140.55,231.34 L140.80,231.67 L141.05,231.99 L141.30,232.31 L141.55,232.61 L141.80,232.90 L142.05,233.19 L142.30,233.46 L142.55,233.73 L142.80,234.00 L143.05,234.26 L143.30,234.51 L143.55,234.76 L143.80,235.01 L144.05,235.26 L144.30,235.50 L144.55,235.75 L144.80,235.99 L145.05,236.24 L145.30,236.49 L145.55,236.75 L145.80,237.00 L146.05,237.25 L146.30,237.50 L146.55,237.74 L146.80,237.98 L147.05,238.21 L147.30,238.45 L147.55,238.68 L147.80,238.91 L148.05,239.14 L148.30,239.37 L148.55,239.60 L148.80,239.83 L149.05,240.07 L149.30,240.31 L149.55,240.55 L149.80,240.80 L150.05,241.05 L150.30,241.31 L150.55,241.57 L150.80,241.84 L151.05,242.12 L151.30,242.41 L151.55,242.69 L151.80,242.98 L152.05,243.28 L152.30,243.57 L152.55,243.86 L152.80,244.15 L153.05,244.44 L153.30,244.73 L153.55,245.01 L153.80,245.29 L154.05,245.56 L154.30,245.83 L154.55,246.08 L154.80,246.33 L155.05,246.56 L155.30,246.79 L155.55,247.02 L155.80,247.24 L156.05,247.47 L156.30,247.70 L156.55,247.93 L156.80,248.16 L157.05,248.39 L157.30,248.61 L157.55,248.84 L157.80,249.06 L158.05,249.27 L158.30,249.49 L158.55,249.70 L158.80,249.90 L159.05,250.10 L159.30,250.29 L159.55,250.48 L159.80,250.66 L160.05,250.83 L160.30,250.99 L160.55,251.15 L160.80,251.29 L161.05,251.43 L161.30,251.55 L161.55,251.66 L161.80,251.76 L162.05,251.85 L162.30,251.93 L162.55,252.00 L162.80,252.08 L163.05,252.15 L163.30,252.22 L163.55,252.29 L163.80,252.35 L164.05,252.42 L164.30,252.47 L164.55,252.52 L164.80,252.57 L165.05,252.61 L165.30,252.64 L165.55,252.67 L165.80,252.69 L166.05,252.70 L166.30,252.70 L166.55,252.69 L166.80,252.66 L167.05,252.62 L167.30,252.57 L167.55,252.51 L167.80,252.43 L168.05,252.35 L168.30,252.25 L168.55,252.15 L168.80,252.03 L169.05,251.91 L169.30,251.77 L169.55,251.63 L169.80,251.48 L170.05,251.33 L170.30,251.17 L170.55,251.00 L170.80,250.83 L171.05,250.65 L171.30,250.47 L171.55,250.28 L171.80,250.09 L172.05,249.90 L172.30,249.70 L172.55,249.48 L172.80,249.22 L173.05,248.92 L173.30,248.59 L173.55,248.23 L173.80,247.84 L174.05,247.42 L174.30,246.98 L174.55,246.52 L174.80,246.05 L175.05,245.57 L175.30,245.08 L175.55,244.58 L175.80,244.09 L176.05,243.59 L176.30,243.10 L176.55,242.60 L176.80,242.07 L177.05,241.51 L177.30,240.94 L177.55,240.35 L177.80,239.74 L178.05,239.13 L178.30,238.52 L178.55,237.90 L178.80,237.29 L179.05,236.69 L179.30,236.10 L179.55,235.51 L179.80,234.91 L180.05,234.29 L180.30,233.68 L180.55,233.06 L180.80,232.45 L181.05,231.85 L181.30,231.26 L181.55,230.68 L181.80,230.13 L182.05,229.60 L182.30,229.10 L182.55,228.62 L182.80,228.13 L183.05,227.65 L183.30,227.17 L183.55,226.70 L183.80,226.23 L184.05,225.78 L184.30,225.34 L184.55,224.92 L184.80,224.52 L185.05,224.13 L185.30,223.77 L185.55,223.44 L185.80,223.13 L186.05,222.85 L186.30,222.60 L186.55,222.37 L186.80,222.14 L187.05,221.91 L187.30,221.68 L187.55,221.46 L187.80,221.25 L188.05,221.04 L188.30,220.84 L188.55,220.66 L188.80,220.49 L189.05,220.33 L189.30,220.19 L189.55,220.07 L189.80,219.97 L190.05,219.89 L190.30,219.83 L190.55,219.80 L190.80,219.81 L191.05,219.90 L191.30,220.09 L191.55,220.35 L191.80,220.67 L192.05,221.04 L192.30,221.45 L192.55,221.88 L192.80,222.32 L193.05,222.75 L193.30,223.16 L193.55,223.53 L193.80,223.89 L194.05,224.27 L194.30,224.67 L194.55,225.09 L194.80,225.51 L195.05,225.92 L195.30,226.32 L195.55,226.68 L195.80,227.02 L196.05,227.30 L196.30,227.53 L196.55,227.70 L196.80,227.87 L197.05,228.03 L197.30,228.19 L197.55,228.34 L197.80,228.48 L198.05,228.61 L198.30,228.74 L198.55,228.86 L198.80,228.96 L199.05,229.05 L199.30,229.13 L199.55,229.20 L199.80,229.25 L200.05,229.28 L200.30,229.30 L200.55,229.30 L200.80,229.28 L201.05,229.26 L201.30,229.22 L201.55,229.17 L201.80,229.11 L202.05,229.04 L202.30,228.97 L202.55,228.88 L202.80,228.79 L203.05,228.68 L203.30,228.58 L203.55,228.46 L203.80,228.34 L204.05,228.21 L204.30,228.08 L204.55,227.95 L204.80,227.81 L205.05,227.67 L205.30,227.53 L205.55,227.39 L205.80,227.24 L206.05,227.07 L206.30,226.89 L206.55,226.68 L206.80,226.45 L207.05,226.20 L207.30,225.94 L207.55,225.66 L207.80,225.36 L208.05,225.05 L208.30,224.73 L208.55,224.40 L208.80,224.06 L209.05,223.70 L209.30,223.34 L209.55,222.97 L209.80,222.60 L210.00,222.30" fill="none" stroke="#111" stroke-width="1.05" stroke-dasharray="1.1 2.3" opacity=".75"/>
<path d="M114.30,160.00 L115.50,172.00 L117.60,183.00 L119.40,190.60 L121.00,186.00 L122.60,170.00" fill="none" stroke="#111" stroke-width="1.05" stroke-dasharray="1.1 2.3" opacity=".75"/>
<path d="M94.20,192.00 L95.80,206.00 L97.40,222.00 L98.30,231.70 L99.30,270.00 L100.30,297.00 L101.40,315.00" fill="none" stroke="#3a63ec" stroke-width="1" stroke-dasharray="1.2 2.2" opacity=".75"/>
<path d="M108.70,186.00 L108.20,200.00 L107.90,216.00 L106.00,270.00 L104.30,297.00 L102.60,308.00 L101.60,315.00" fill="none" stroke="#3a63ec" stroke-width="1" stroke-dasharray="1.2 2.2" opacity=".75"/>
<path d="M158.00,209.20 L165.00,215.00 L172.00,219.00 L178.00,220.30 L183.00,219.00 L187.00,216.00" fill="none" stroke="#3a63ec" stroke-width="1" stroke-dasharray="1.2 2.2" opacity=".75"/>
<path d="M195.50,221.00 L198.60,226.50 L202.00,229.00 L206.00,228.60 L209.50,225.00" fill="none" stroke="#3a63ec" stroke-width="1" stroke-dasharray="1.2 2.2" opacity=".75"/>
</g>
<g id="labels">
<text x="25.6" y="352.8" font-size="11" fill="#111" stroke="#111" stroke-width="0.25" textLength="25.5" lengthAdjust="spacingAndGlyphs" text-anchor="start">7000</text>
<text x="133.3" y="352.8" font-size="11" fill="#111" stroke="#111" stroke-width="0.25" textLength="25.5" lengthAdjust="spacingAndGlyphs" text-anchor="start">9000</text>
<text x="239.2" y="352.8" font-size="11" fill="#111" stroke="#111" stroke-width="0.25" textLength="30.9" lengthAdjust="spacingAndGlyphs" text-anchor="start">11000</text>
<text x="346.9" y="352.8" font-size="11" fill="#111" stroke="#111" stroke-width="0.25" textLength="30.9" lengthAdjust="spacingAndGlyphs" text-anchor="start">13000</text>
<text x="454.6" y="352.8" font-size="11" fill="#111" stroke="#111" stroke-width="0.25" textLength="30.9" lengthAdjust="spacingAndGlyphs" text-anchor="start">15000</text>
<text x="562.2" y="352.8" font-size="11" fill="#111" stroke="#111" stroke-width="0.25" textLength="30.9" lengthAdjust="spacingAndGlyphs" text-anchor="start">17000</text>
<text x="669.9" y="352.8" font-size="11" fill="#111" stroke="#111" stroke-width="0.25" textLength="30.9" lengthAdjust="spacingAndGlyphs" text-anchor="start">19000</text>
<text x="17.1" y="8.0" font-size="11" fill="#111" stroke="#111" stroke-width="0.25" textLength="12.9" lengthAdjust="spacingAndGlyphs" text-anchor="start">10</text>
<text x="23.5" y="172.8" font-size="11" fill="#111" stroke="#111" stroke-width="0.25" textLength="5.1" lengthAdjust="spacingAndGlyphs" text-anchor="start">1</text>
<text x="13.5" y="337.0" font-size="11" fill="#111" stroke="#111" stroke-width="0.25" textLength="14.8" lengthAdjust="spacing" text-anchor="start">0.1</text>
<text x="291.5" y="375.5" font-size="11" fill="#111" stroke="#111" stroke-width="0.25" textLength="91.8" lengthAdjust="spacing" text-anchor="start">photon energy (eV)</text>
<text transform="translate(7.4,181.0) rotate(-90)" font-size="11" fill="#111" textLength="37" lengthAdjust="spacing">J/ns/eV</text>
<text x="203.8" y="36.9" font-size="11" fill="#111" stroke="#111" stroke-width="0.25" textLength="119.9" lengthAdjust="spacing" text-anchor="start">case 1 (low temperature)</text>
<text x="203.8" y="53.9" font-size="11" fill="#111" stroke="#111" stroke-width="0.25" textLength="95.2" lengthAdjust="spacing" text-anchor="start">case 2 (low density)</text>
<text x="103.3" y="16.4" font-size="11" fill="#111" stroke="#111" stroke-width="0.25" textLength="14.1" lengthAdjust="spacingAndGlyphs" text-anchor="start">Cu</text>
<text x="99.9" y="29.7" font-size="11" fill="#111" stroke="#111" stroke-width="0.25" textLength="19.5" lengthAdjust="spacing" text-anchor="start">Heα</text>
<text x="136.7" y="34.0" font-size="11" fill="#111" stroke="#111" stroke-width="0.25" textLength="13.9" lengthAdjust="spacing" text-anchor="start">Cu</text>
<text x="134.5" y="46.8" font-size="11" fill="#111" stroke="#111" stroke-width="0.25" textLength="17.9" lengthAdjust="spacingAndGlyphs" text-anchor="start">Lyα</text>
<text x="71.5" y="79.8" font-size="11" fill="#111" stroke="#111" stroke-width="0.25" textLength="35.9" lengthAdjust="spacing" text-anchor="start">cold Cu</text>
<text x="82.5" y="92.7" font-size="11" fill="#111" stroke="#111" stroke-width="0.25" textLength="14.9" lengthAdjust="spacingAndGlyphs" text-anchor="start">Kα</text>
<text x="184.9" y="124.0" font-size="11" fill="#111" stroke="#111" stroke-width="0.25" textLength="14.1" lengthAdjust="spacingAndGlyphs" text-anchor="start">Cu</text>
<text x="182.4" y="136.8" font-size="11" fill="#111" stroke="#111" stroke-width="0.25" textLength="18.7" lengthAdjust="spacing" text-anchor="start">Heβ</text>
<text x="208.1" y="118.3" font-size="11" fill="#111" stroke="#111" stroke-width="0.25" textLength="14.4" lengthAdjust="spacingAndGlyphs" text-anchor="start">Cu</text>
<text x="207.4" y="131.1" font-size="11" fill="#111" stroke="#111" stroke-width="0.25" textLength="16.6" lengthAdjust="spacing" text-anchor="start">Lyβ</text>
<text x="238.5" y="171.1" font-size="11" fill="#111" stroke="#111" stroke-width="0.25" textLength="14.0" lengthAdjust="spacing" text-anchor="start">Cu</text>
<text x="237.8" y="184.0" font-size="11" fill="#111" stroke="#111" stroke-width="0.25" textLength="16.2" lengthAdjust="spacing" text-anchor="start">Lyγ</text>
<text x="350.2" y="16.1" font-size="11" fill="#111" stroke="#111" stroke-width="0.25" textLength="10.2" lengthAdjust="spacing" text-anchor="start">Kr</text>
<text x="345.2" y="29.7" font-size="11" fill="#111" stroke="#111" stroke-width="0.25" textLength="20.2" lengthAdjust="spacing" text-anchor="start">Heα</text>
<text x="385.9" y="74.4" font-size="11" fill="#111" stroke="#111" stroke-width="0.25" textLength="10.2" lengthAdjust="spacing" text-anchor="start">Kr</text>
<text x="382.4" y="88.0" font-size="11" fill="#111" stroke="#111" stroke-width="0.25" textLength="18.0" lengthAdjust="spacingAndGlyphs" text-anchor="start">Lyα</text>
<text x="483.8" y="95.8" font-size="11" fill="#111" stroke="#111" stroke-width="0.25" textLength="9.5" lengthAdjust="spacing" text-anchor="start">Kr</text>
<text x="479.5" y="109.0" font-size="11" fill="#111" stroke="#111" stroke-width="0.25" textLength="18.8" lengthAdjust="spacing" text-anchor="start">Heβ</text>
<text x="533.8" y="154.7" font-size="11" fill="#111" stroke="#111" stroke-width="0.25" textLength="11.6" lengthAdjust="spacingAndGlyphs" text-anchor="start">Kr</text>
<text x="530.6" y="167.5" font-size="11" fill="#111" stroke="#111" stroke-width="0.25" textLength="18.4" lengthAdjust="spacing" text-anchor="start">Heγ</text>
<text x="517.4" y="183.3" font-size="11" fill="#111" stroke="#111" stroke-width="0.25" textLength="10.9" lengthAdjust="spacing" text-anchor="start">Kr</text>
<text x="514.5" y="196.1" font-size="11" fill="#111" stroke="#111" stroke-width="0.25" textLength="16.6" lengthAdjust="spacing" text-anchor="start">Lyβ</text>
<text x="124.5" y="284.0" font-size="11" fill="#111" stroke="#111" stroke-width="0.25" textLength="20.4" lengthAdjust="spacing" text-anchor="start">[v,T]</text>
<text x="144.5" y="277.2" font-size="7.2" fill="#111" stroke="#111" stroke-width="0.1" textLength="11.3" lengthAdjust="spacingAndGlyphs" text-anchor="start">mix</text>
<text x="167.4" y="290.8" font-size="11" fill="#111" stroke="#111" stroke-width="0.25" textLength="10.4" lengthAdjust="spacingAndGlyphs" text-anchor="start">ρr</text>
<text x="177.4" y="285.1" font-size="7.2" fill="#111" stroke="#111" stroke-width="0.1" textLength="11.6" lengthAdjust="spacingAndGlyphs" text-anchor="start">mix</text>
<text x="211.2" y="275.1" font-size="11" fill="#111" stroke="#111" stroke-width="0.25" textLength="21.2" lengthAdjust="spacingAndGlyphs" text-anchor="start">[T,ρ]</text>
<text x="232.0" y="268.4" font-size="7.2" fill="#111" stroke="#111" stroke-width="0.1" textLength="11.4" lengthAdjust="spacingAndGlyphs" text-anchor="start">mix</text>
<text x="127.4" y="325.1" font-size="11" fill="#111" stroke="#111" stroke-width="0.25" textLength="33.0" lengthAdjust="spacing" text-anchor="start">[T,ρ,ρr]</text>
<text x="161.2" y="318.8" font-size="7.2" fill="#111" stroke="#111" stroke-width="0.1" textLength="14.2" lengthAdjust="spacing" text-anchor="start">shell</text>
<text x="376.0" y="295.3" font-size="11" fill="#111" stroke="#111" stroke-width="0.25" textLength="10.0" lengthAdjust="spacingAndGlyphs" text-anchor="start">ρr</text>
<text x="385.5" y="289.4" font-size="7.2" fill="#111" stroke="#111" stroke-width="0.1" textLength="14.7" lengthAdjust="spacingAndGlyphs" text-anchor="start">core</text>
<text x="453.4" y="298.3" font-size="11" fill="#111" stroke="#111" stroke-width="0.25" textLength="7.2" lengthAdjust="spacingAndGlyphs" text-anchor="start">T</text>
<text x="460.2" y="293.3" font-size="7.2" fill="#111" stroke="#111" stroke-width="0.1" textLength="14.2" lengthAdjust="spacingAndGlyphs" text-anchor="start">core</text>
<text x="522.9" y="301.1" font-size="11" fill="#111" stroke="#111" stroke-width="0.25" textLength="7.1" lengthAdjust="spacingAndGlyphs" text-anchor="start">ρ</text>
<text x="529.5" y="296.8" font-size="7.2" fill="#111" stroke="#111" stroke-width="0.1" textLength="14.3" lengthAdjust="spacingAndGlyphs" text-anchor="start">core</text>
<text x="611.8" y="299.1" font-size="11" fill="#111" stroke="#111" stroke-width="0.25" textLength="7.0" lengthAdjust="spacingAndGlyphs" text-anchor="start">T</text>
<text x="618.1" y="294.4" font-size="7.2" fill="#111" stroke="#111" stroke-width="0.1" textLength="14.3" lengthAdjust="spacingAndGlyphs" text-anchor="start">core</text>
<text x="482.1" y="20.4" font-size="11" fill="#111" stroke="#111" stroke-width="0.25" textLength="24.0" lengthAdjust="spacingAndGlyphs" text-anchor="start">Be +</text>
<text x="480.6" y="34.4" font-size="11" fill="#111" stroke="#111" stroke-width="0.25" textLength="26.7" lengthAdjust="spacingAndGlyphs" text-anchor="start">0.1%</text>
<text x="486.4" y="47.8" font-size="11" fill="#111" stroke="#111" stroke-width="0.25" textLength="15.1" lengthAdjust="spacingAndGlyphs" text-anchor="start">Cu</text>
<text x="533.1" y="62.8" font-size="11" fill="#111" stroke="#111" stroke-width="0.25" textLength="25.2" lengthAdjust="spacingAndGlyphs" text-anchor="start">DT +</text>
<text x="528.8" y="76.8" font-size="11" fill="#111" stroke="#111" stroke-width="0.25" textLength="33.5" lengthAdjust="spacingAndGlyphs" text-anchor="start">0.01%</text>
<text x="525.9" y="89.7" font-size="11" fill="#111" stroke="#111" stroke-width="0.25" textLength="39.2" lengthAdjust="spacingAndGlyphs" text-anchor="start">Kr &amp; Cu</text>
<text x="609.7" y="16.6" font-size="11" fill="#111" stroke="#111" stroke-width="0.25" textLength="22.4" lengthAdjust="spacingAndGlyphs" text-anchor="start">core</text>
<text x="582.2" y="30.8" font-size="11" fill="#111" stroke="#111" stroke-width="0.25" textLength="31.9" lengthAdjust="spacing" text-anchor="start">case 1</text>
<text x="631.2" y="30.8" font-size="11" fill="#3a63ec" stroke="#3a63ec" stroke-width="0.25" textLength="33.6" lengthAdjust="spacingAndGlyphs" text-anchor="start">case 2</text>
<text x="594.3" y="47.5" font-size="11" fill="#111" stroke="#111" stroke-width="0.25" textLength="18.1" lengthAdjust="spacing" text-anchor="start">100</text>
<text x="617.1" y="47.5" font-size="11" fill="#111" stroke="#111" stroke-width="0.25" textLength="6.9" lengthAdjust="spacingAndGlyphs" text-anchor="start">ρ</text>
<text x="624.4" y="41.5" font-size="7.2" fill="#111" stroke="#111" stroke-width="0.1" textLength="4.6" lengthAdjust="spacingAndGlyphs" text-anchor="start">c</text>
<text x="632.1" y="47.5" font-size="11" fill="#3a63ec" stroke="#3a63ec" stroke-width="0.25" textLength="11.2" lengthAdjust="spacing" text-anchor="start">10</text>
<text x="645.3" y="47.5" font-size="11" fill="#111" stroke="#111" stroke-width="0.25" textLength="22.1" lengthAdjust="spacingAndGlyphs" text-anchor="start">g/cc</text>
<text x="599.1" y="65.4" font-size="11" fill="#111" stroke="#111" stroke-width="0.25" textLength="13.3" lengthAdjust="spacingAndGlyphs" text-anchor="start">50</text>
<text x="619.5" y="65.4" font-size="11" fill="#111" stroke="#111" stroke-width="0.25" textLength="4.1" lengthAdjust="spacingAndGlyphs" text-anchor="start">r</text>
<text x="623.1" y="59.5" font-size="7.2" fill="#111" stroke="#111" stroke-width="0.1" textLength="4.7" lengthAdjust="spacingAndGlyphs" text-anchor="start">c</text>
<text x="631.2" y="65.4" font-size="11" fill="#3a63ec" stroke="#3a63ec" stroke-width="0.25" textLength="18.1" lengthAdjust="spacing" text-anchor="start">100</text>
<text x="651.0" y="65.4" font-size="11" fill="#111" stroke="#111" stroke-width="0.25" textLength="17.2" lengthAdjust="spacingAndGlyphs" text-anchor="start">μm</text>
<text x="596.5" y="82.6" font-size="11" fill="#111" stroke="#111" stroke-width="0.25" textLength="15.9" lengthAdjust="spacingAndGlyphs" text-anchor="start">3.5</text>
<text x="616.6" y="82.6" font-size="11" fill="#111" stroke="#111" stroke-width="0.25" textLength="7.8" lengthAdjust="spacingAndGlyphs" text-anchor="start">T</text>
<text x="623.9" y="76.7" font-size="7.2" fill="#111" stroke="#111" stroke-width="0.1" textLength="4.7" lengthAdjust="spacingAndGlyphs" text-anchor="start">c</text>
<text x="632.9" y="82.6" font-size="11" fill="#3a63ec" stroke="#3a63ec" stroke-width="0.25" textLength="7.5" lengthAdjust="spacingAndGlyphs" text-anchor="start">8</text>
<text x="644.1" y="82.6" font-size="11" fill="#111" stroke="#111" stroke-width="0.25" textLength="21.0" lengthAdjust="spacingAndGlyphs" text-anchor="start">keV</text>
<text x="598.5" y="99.2" font-size="11" fill="#111" stroke="#111" stroke-width="0.25" textLength="13.9" lengthAdjust="spacingAndGlyphs" text-anchor="start">30</text>
<text x="619.5" y="99.2" font-size="11" fill="#111" stroke="#111" stroke-width="0.25" textLength="6.4" lengthAdjust="spacingAndGlyphs" text-anchor="start">v</text>
<text x="625.2" y="93.3" font-size="7.2" fill="#111" stroke="#111" stroke-width="0.1" textLength="4.5" lengthAdjust="spacingAndGlyphs" text-anchor="start">c</text>
<text x="632.9" y="99.2" font-size="11" fill="#3a63ec" stroke="#3a63ec" stroke-width="0.25" textLength="11.3" lengthAdjust="spacing" text-anchor="start">15</text>
<text x="646.7" y="99.2" font-size="11" fill="#111" stroke="#111" stroke-width="0.25" textLength="30.1" lengthAdjust="spacingAndGlyphs" text-anchor="start">cm/μs</text>
<text x="614.9" y="135.2" font-size="11" fill="#111" stroke="#111" stroke-width="0.25" textLength="21.8" lengthAdjust="spacing" text-anchor="start">shell</text>
<text x="614.9" y="152.7" font-size="11" fill="#111" stroke="#111" stroke-width="0.25" textLength="6.7" lengthAdjust="spacingAndGlyphs" text-anchor="start">ρ</text>
<text x="621.1" y="146.7" font-size="7.2" fill="#111" stroke="#111" stroke-width="0.1" textLength="4.3" lengthAdjust="spacingAndGlyphs" text-anchor="start">s</text>
<text x="625.2" y="152.7" font-size="11" fill="#111" stroke="#111" stroke-width="0.25" textLength="8.1" lengthAdjust="spacingAndGlyphs" text-anchor="start">=</text>
<text x="634.4" y="152.7" font-size="11" fill="#111" stroke="#111" stroke-width="0.25" textLength="13.0" lengthAdjust="spacingAndGlyphs" text-anchor="start">3ρ</text>
<text x="646.7" y="146.7" font-size="7.2" fill="#111" stroke="#111" stroke-width="0.1" textLength="4.5" lengthAdjust="spacingAndGlyphs" text-anchor="start">c</text>
<text x="615.2" y="169.4" font-size="11" fill="#111" stroke="#111" stroke-width="0.25" textLength="4.2" lengthAdjust="spacingAndGlyphs" text-anchor="start">r</text>
<text x="619.3" y="163.5" font-size="7.2" fill="#111" stroke="#111" stroke-width="0.1" textLength="4.3" lengthAdjust="spacingAndGlyphs" text-anchor="start">s</text>
<text x="625.2" y="169.4" font-size="11" fill="#111" stroke="#111" stroke-width="0.25" textLength="8.1" lengthAdjust="spacingAndGlyphs" text-anchor="start">=</text>
<text x="633.9" y="169.4" font-size="11" fill="#111" stroke="#111" stroke-width="0.25" textLength="3.9" lengthAdjust="spacingAndGlyphs" text-anchor="start">r</text>
<text x="637.2" y="163.5" font-size="7.2" fill="#111" stroke="#111" stroke-width="0.1" textLength="4.5" lengthAdjust="spacingAndGlyphs" text-anchor="start">c</text>
<text x="641.1" y="169.4" font-size="11" fill="#111" stroke="#111" stroke-width="0.25" textLength="10.3" lengthAdjust="spacingAndGlyphs" text-anchor="start">/2</text>
<text x="614.9" y="186.4" font-size="11" fill="#111" stroke="#111" stroke-width="0.25" textLength="7.3" lengthAdjust="spacingAndGlyphs" text-anchor="start">T</text>
<text x="621.5" y="180.5" font-size="7.2" fill="#111" stroke="#111" stroke-width="0.1" textLength="4.3" lengthAdjust="spacingAndGlyphs" text-anchor="start">s</text>
<text x="625.4" y="186.4" font-size="11" fill="#111" stroke="#111" stroke-width="0.25" textLength="8.0" lengthAdjust="spacingAndGlyphs" text-anchor="start">=</text>
<text x="634.7" y="186.4" font-size="11" fill="#111" stroke="#111" stroke-width="0.25" textLength="7.3" lengthAdjust="spacingAndGlyphs" text-anchor="start">T</text>
<text x="641.5" y="180.5" font-size="7.2" fill="#111" stroke="#111" stroke-width="0.1" textLength="4.5" lengthAdjust="spacingAndGlyphs" text-anchor="start">c</text>
<text x="644.4" y="186.4" font-size="11" fill="#111" stroke="#111" stroke-width="0.25" textLength="16.2" lengthAdjust="spacingAndGlyphs" text-anchor="start">/10</text>
<text x="617.3" y="203.0" font-size="11" fill="#111" stroke="#111" stroke-width="0.25" textLength="6.1" lengthAdjust="spacingAndGlyphs" text-anchor="start">v</text>
<text x="622.9" y="197.1" font-size="7.2" fill="#111" stroke="#111" stroke-width="0.1" textLength="4.3" lengthAdjust="spacingAndGlyphs" text-anchor="start">s</text>
<text x="626.5" y="203.0" font-size="11" fill="#111" stroke="#111" stroke-width="0.25" textLength="7.9" lengthAdjust="spacingAndGlyphs" text-anchor="start">=</text>
<text x="635.5" y="203.0" font-size="11" fill="#111" stroke="#111" stroke-width="0.25" textLength="6.3" lengthAdjust="spacingAndGlyphs" text-anchor="start">v</text>
<text x="641.2" y="197.1" font-size="7.2" fill="#111" stroke="#111" stroke-width="0.1" textLength="4.6" lengthAdjust="spacingAndGlyphs" text-anchor="start">c</text>
</g>
</svg>
</body></html>
